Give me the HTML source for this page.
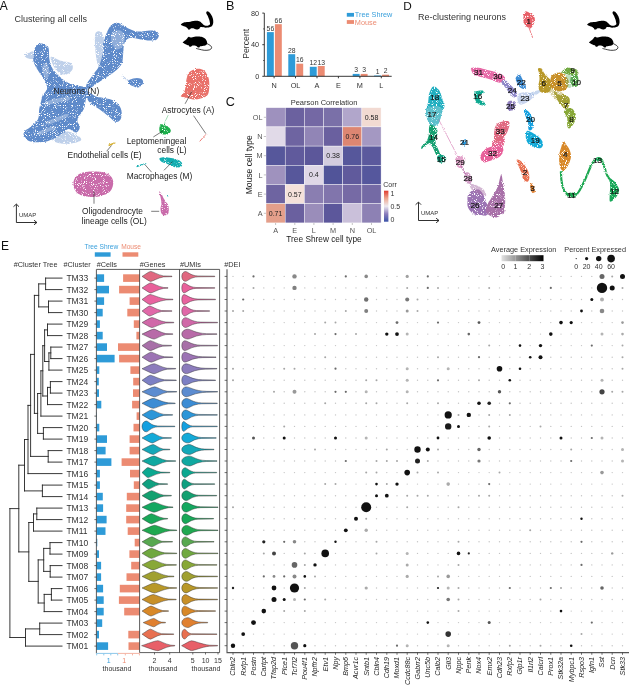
<!DOCTYPE html><html><head><meta charset="utf-8"><title>Figure</title><style>html,body{margin:0;padding:0;background:#fff;}svg{display:block;font-family:"Liberation Sans",Arial,sans-serif;}</style></head><body><svg width="629" height="685" viewBox="0 0 629 685"><defs><filter id="fz" x="-5%" y="-5%" width="110%" height="110%" color-interpolation-filters="sRGB"><feTurbulence type="fractalNoise" baseFrequency="1.1" numOctaves="1" seed="2" result="t"/><feDisplacementMap in="SourceGraphic" in2="t" scale="2.6" xChannelSelector="R" yChannelSelector="G" result="d"/><feColorMatrix in="t" type="matrix" values="0 0 0 0 0 0 0 0 0 0 0 0 0 0 0 0 0 9 0 -2.75" result="m"/><feComposite in="d" in2="m" operator="in"/></filter></defs><rect width="629" height="685" fill="#fff"/><text x="-0.2" y="9.7" font-size="12" fill="#111" font-family="Liberation Sans, Arial, sans-serif">A</text><text x="14.5" y="21.9" font-size="9" fill="#333" font-family="Liberation Sans, Arial, sans-serif">Clustering all cells</text><g filter="url(#fz)"><g fill="#5E8ACA"><path d="M35.44 46.80C36.84 43.92 39.68 43.49 41.80 43.49C43.92 43.49 46.89 44.17 48.16 46.80C49.43 49.43 48.79 55.83 49.43 59.26C50.07 62.70 50.19 64.44 51.97 67.40C53.75 70.37 57.19 74.40 60.11 77.07C63.04 79.74 65.80 81.86 69.53 83.43C73.26 85.00 79.62 85.76 82.50 86.48C85.38 87.20 85.98 86.95 86.83 87.76C87.67 88.56 87.67 89.87 87.59 91.32C87.50 92.76 86.95 93.44 86.32 96.40C85.68 99.37 85.04 105.73 83.77 109.12C82.50 112.52 79.74 114.64 78.68 116.76C77.62 118.88 77.20 120.15 77.41 121.84C77.62 123.54 80.17 125.15 79.96 126.93C79.74 128.71 78.05 132.19 76.14 132.53C74.23 132.87 71.05 128.63 68.51 128.97C65.97 129.31 64.27 132.57 60.88 134.56C57.49 136.56 52.61 139.65 48.16 140.92C43.71 142.19 37.98 142.62 34.17 142.19C30.35 141.77 26.96 140.07 25.26 138.38C23.57 136.68 23.14 133.93 23.99 132.02C24.84 130.11 28.02 129.05 30.35 126.93C32.68 124.81 36.50 122.27 37.98 119.30C39.47 116.33 38.66 112.43 39.25 109.12C39.85 105.82 41.04 101.62 41.54 99.46C42.05 97.29 41.37 98.02 42.31 96.15C43.24 94.28 46.76 90.93 47.14 88.26C47.52 85.59 45.95 82.84 44.60 80.12C43.24 77.41 40.87 75.21 39.00 71.98C37.13 68.76 34.00 64.99 33.40 60.79C32.81 56.59 34.04 49.68 35.44 46.80Z"/><path d="M86.32 84.96C87.16 82.41 91.83 76.69 93.95 73.51C96.07 70.33 97.55 69.27 99.04 65.88C100.52 62.49 102.00 57.40 102.85 53.16C103.70 48.92 103.06 44.68 104.12 40.44C105.18 36.20 107.30 30.69 109.21 27.72C111.12 24.75 113.24 23.06 115.57 22.63C117.90 22.21 120.87 24.12 123.20 25.18C125.53 26.24 127.23 27.93 129.56 28.99C131.89 30.05 134.23 31.24 137.19 31.54C140.16 31.83 144.40 30.90 147.37 30.77C150.34 30.64 153.09 30.22 155.00 30.77C156.91 31.32 158.48 32.68 158.82 34.08C159.16 35.48 158.52 38.11 157.04 39.17C155.55 40.23 152.80 40.44 149.91 40.44C147.03 40.44 143.13 39.59 139.74 39.17C136.35 38.74 132.11 37.26 129.56 37.89C127.02 38.53 125.53 40.44 124.47 42.98C123.41 45.53 123.63 49.77 123.20 53.16C122.78 56.55 122.99 60.58 121.93 63.33C120.87 66.09 119.39 67.36 116.84 69.69C114.30 72.03 110.06 74.99 106.67 77.33C103.28 79.66 99.46 81.78 96.49 83.68C93.52 85.59 90.56 88.56 88.86 88.77C87.16 88.98 85.47 87.50 86.32 84.96Z"/><path d="M86.32 91.32C87.59 90.47 92.68 95.13 96.49 96.40C100.31 97.68 105.82 97.89 109.21 98.95C112.60 100.01 114.81 100.86 116.84 102.76C118.88 104.67 120.79 107.64 121.42 110.40C122.06 113.15 121.63 117.39 120.66 119.30C119.68 121.21 117.48 122.27 115.57 121.84C113.66 121.42 111.97 118.88 109.21 116.76C106.46 114.64 102.43 111.67 99.04 109.12C95.64 106.58 90.98 104.46 88.86 101.49C86.74 98.52 85.04 92.16 86.32 91.32Z"/><path d="M129.56 79.87C131.05 79.02 135.07 78.09 137.19 78.09C139.31 78.09 141.35 78.94 142.28 79.87C143.21 80.80 143.43 82.41 142.79 83.68C142.15 84.96 140.03 87.08 138.47 87.50C136.90 87.92 135.07 86.95 133.38 86.23C131.68 85.51 128.93 84.24 128.29 83.18C127.65 82.12 128.08 80.72 129.56 79.87Z"/></g><g fill="#5E8ACA" opacity="0.4"><path d="M50.70 56.97C51.55 55.49 57.49 59.73 60.88 60.79C64.27 61.85 69.15 61.85 71.05 63.33C72.96 64.82 73.39 67.79 72.33 69.69C71.27 71.60 67.45 74.78 64.69 74.78C61.94 74.78 58.12 72.66 55.79 69.69C53.46 66.73 49.85 58.46 50.70 56.97Z"/><path d="M95.22 34.08C96.15 30.26 100.01 30.90 101.58 32.81C103.15 34.72 104.42 40.86 104.63 45.53C104.84 50.19 103.78 57.19 102.85 60.79C101.92 64.39 100.18 68.00 99.04 67.15C97.89 66.30 96.62 61.21 95.98 55.70C95.35 50.19 94.29 37.89 95.22 34.08Z"/><path d="M24.75 55.70C24.97 54.56 28.57 52.52 30.35 51.89C32.13 51.25 34.59 50.83 35.44 51.89C36.29 52.95 36.50 57.10 35.44 58.25C34.38 59.39 30.86 59.18 29.08 58.75C27.30 58.33 24.54 56.85 24.75 55.70Z"/><path d="M48.16 134.56C49.01 132.65 56.64 130.96 60.88 130.75C65.12 130.53 70.21 131.81 73.60 133.29C76.99 134.77 81.65 137.95 81.23 139.65C80.80 141.35 75.29 143.04 71.05 143.47C66.81 143.89 59.61 143.68 55.79 142.19C51.97 140.71 47.31 136.47 48.16 134.56Z"/><path d="M121.9 76L129.6 81.6" stroke="#5E8ACA" stroke-width="1.2" fill="none"/></g><g fill="#fff" opacity="0.3"><path d="M111.76 32.81C113.03 30.69 117.27 29.84 119.39 30.26C121.51 30.69 123.84 32.81 124.47 35.35C125.11 37.89 124.47 43.19 123.20 45.53C121.93 47.86 118.75 49.77 116.84 49.34C114.94 48.92 112.60 45.74 111.76 42.98C110.91 40.23 110.48 34.93 111.76 32.81Z"/><path d="M42.56 65.88C43.20 64.18 45.74 62.06 46.89 63.33C48.03 64.61 49.56 70.97 49.43 73.51C49.30 76.05 47.18 78.60 46.12 78.60C45.06 78.60 43.66 75.63 43.07 73.51C42.48 71.39 41.93 67.57 42.56 65.88Z"/></g><path d="M46 103.5C53 101.5 60 99.8 68 98.6M47.5 123C54 120.5 60 118 66.4 115.5M40 133C45 131 50 129 54 127.5" stroke="#fff" stroke-width="4" stroke-linecap="round" fill="none" opacity="0.32"/><g></g><path d="M189.20 72.30C190.95 70.55 194.53 69.10 197.00 68.80C199.47 68.50 202.10 69.05 204.00 70.50C205.90 71.95 207.52 74.87 208.40 77.50C209.28 80.13 209.43 83.38 209.30 86.30C209.17 89.22 209.05 92.97 207.60 95.00C206.15 97.03 202.93 97.77 200.60 98.50C198.27 99.23 195.95 99.53 193.60 99.40C191.25 99.27 188.67 98.13 186.50 97.70C184.33 97.27 181.03 97.68 180.60 96.80C180.17 95.92 183.05 94.15 183.90 92.40C184.75 90.65 185.27 88.48 185.70 86.30C186.13 84.12 185.92 81.63 186.50 79.30C187.08 76.97 187.45 74.05 189.20 72.30Z" fill="#E9716A"/><path d="M199.7 141.4L205.8 134.4" stroke="#E9716A" stroke-width="0.9"/><path d="M159.40 127.50C159.65 126.13 160.73 124.80 161.50 124.30C162.27 123.80 163.17 124.22 164.00 124.50C164.83 124.78 165.58 125.42 166.50 126.00C167.42 126.58 168.78 127.17 169.50 128.00C170.22 128.83 170.97 130.00 170.80 131.00C170.63 132.00 169.72 133.43 168.50 134.00C167.28 134.57 164.92 134.65 163.50 134.40C162.08 134.15 160.68 133.65 160.00 132.50C159.32 131.35 159.15 128.87 159.40 127.50Z" fill="#1DAF4B"/><path d="M164 125.5C165 121 167 118 168.2 115.2" stroke="#1DAF4B" stroke-width="0.7" fill="none" opacity="0.6"/><path d="M159.40 158.50C159.65 157.73 161.57 157.37 163.00 157.20C164.43 157.03 166.17 157.28 168.00 157.50C169.83 157.72 172.08 158.00 174.00 158.50C175.92 159.00 178.13 159.67 179.50 160.50C180.87 161.33 181.95 162.45 182.20 163.50C182.45 164.55 182.03 166.13 181.00 166.80C179.97 167.47 177.67 167.72 176.00 167.50C174.33 167.28 172.67 166.17 171.00 165.50C169.33 164.83 167.58 164.12 166.00 163.50C164.42 162.88 162.60 162.63 161.50 161.80C160.40 160.97 159.15 159.27 159.40 158.50Z" fill="#14ADB0"/><path d="M136.6 166.8L142 164.6L146.3 163.5" stroke="#14ADB0" stroke-width="1.2" fill="none"/><path d="M108.6 145.5L115.3 142.6" stroke="#D4AE2C" stroke-width="1.4" fill="none"/><path d="M73.40 183.00C73.48 180.58 74.57 178.20 76.00 176.50C77.43 174.80 79.67 173.63 82.00 172.80C84.33 171.97 87.00 171.67 90.00 171.50C93.00 171.33 97.00 171.38 100.00 171.80C103.00 172.22 105.92 172.80 108.00 174.00C110.08 175.20 111.67 177.17 112.50 179.00C113.33 180.83 113.42 182.92 113.00 185.00C112.58 187.08 111.83 189.70 110.00 191.50C108.17 193.30 105.00 194.88 102.00 195.80C99.00 196.72 95.33 197.05 92.00 197.00C88.67 196.95 84.75 196.50 82.00 195.50C79.25 194.50 76.93 193.08 75.50 191.00C74.07 188.92 73.32 185.42 73.40 183.00Z" fill="#C96BAA"/><path d="M159.20 191.30C159.37 190.80 160.70 192.72 161.50 194.00C162.30 195.28 163.00 197.33 164.00 199.00C165.00 200.67 166.70 202.33 167.50 204.00C168.30 205.67 168.72 207.33 168.80 209.00C168.88 210.67 168.72 212.95 168.00 214.00C167.28 215.05 165.58 215.38 164.50 215.30C163.42 215.22 162.17 214.63 161.50 213.50C160.83 212.37 160.50 210.17 160.50 208.50C160.50 206.83 161.50 205.42 161.50 203.50C161.50 201.58 160.88 199.03 160.50 197.00C160.12 194.97 159.03 191.80 159.20 191.30Z" fill="#C96BAA"/><circle cx="167.8" cy="195.7" r="0.8" fill="#14ADB0"/></g><path d="M191.8 91.5L185.1 103.8M193.6 115.7L205.8 133.6M162.9 130.9L153.3 137M106.7 151.2L111.5 145.5M144.9 164.6L151.6 172.2M172.5 161.6L164 170.3M94 191.3V203.7M151.2 211.3H159.2" stroke="#222" stroke-width="0.6"/><g font-size="8.4" fill="#222" font-family="Liberation Sans, Arial, sans-serif"><text x="53.6" y="93.7">Neurons (N)</text><text x="161.7" y="112.5">Astrocytes (A)</text><text x="126.7" y="143.7">Leptomeningeal</text><text x="157.3" y="153.2">cells (L)</text><text x="67.6" y="158.3">Endothelial cells (E)</text><text x="126.7" y="179">Macrophages (M)</text><text x="82" y="213.8">Oligodendrocyte</text><text x="81.6" y="223.7">lineage cells (OL)</text></g><path d="M16.4 204.3V222.5H36.8M13.5 206.7L16.4 204.1L19.0 206.7M34.0 220.2L36.9 222.5L34.0 224.8" fill="none" stroke="#1a1a1a" stroke-width="0.9" stroke-linejoin="miter"/><text x="18.9" y="216.5" font-size="6" fill="#333" font-family="Liberation Sans, Arial, sans-serif">UMAP</text><path d="M180.84 24.58C180.89 24.26 181.82 23.56 182.30 23.26C182.79 22.96 183.81 22.49 184.50 22.31C185.18 22.14 186.64 22.03 187.42 21.95C188.20 21.86 189.56 21.79 190.34 21.65C191.12 21.52 192.38 21.05 193.26 20.92C194.14 20.80 196.04 20.64 196.91 20.70C197.79 20.77 199.15 21.09 199.84 21.44C200.52 21.78 201.49 22.77 202.03 23.26C202.56 23.75 203.37 24.75 203.85 25.09C204.34 25.43 205.09 25.77 205.68 25.82C206.26 25.87 207.65 25.65 208.24 25.45C208.82 25.26 209.86 24.80 210.06 24.36C210.27 23.92 209.89 22.80 209.77 22.17C209.65 21.53 209.41 20.34 209.19 19.61C208.96 18.88 208.41 17.39 208.09 16.69C207.77 15.99 207.02 14.91 206.78 14.35C206.53 13.79 206.21 12.86 206.26 12.45C206.31 12.04 206.81 11.36 207.14 11.28C207.47 11.20 208.32 11.58 208.75 11.87C209.18 12.15 209.93 12.84 210.35 13.40C210.78 13.97 211.60 15.29 211.96 16.10C212.32 16.91 212.89 18.56 213.06 19.46C213.22 20.37 213.35 22.03 213.20 22.90C213.06 23.76 212.48 25.38 211.96 25.96C211.45 26.55 210.17 27.06 209.33 27.28C208.49 27.50 206.65 27.69 205.68 27.64C204.71 27.60 202.76 26.96 202.03 26.91C201.30 26.87 200.57 27.04 200.20 27.28C199.83 27.52 199.69 28.45 199.25 28.74C198.81 29.03 197.52 29.42 196.91 29.47C196.31 29.52 195.21 29.25 194.72 29.11C194.24 28.96 193.73 28.47 193.26 28.37C192.79 28.28 191.68 28.23 191.22 28.37C190.75 28.52 190.16 29.32 189.76 29.47C189.35 29.62 188.44 29.64 188.15 29.47C187.86 29.30 187.86 28.57 187.56 28.23C187.27 27.89 186.46 27.19 185.96 26.91C185.45 26.64 184.30 26.36 183.77 26.18C183.23 26.01 182.33 25.81 181.94 25.60C181.55 25.38 180.79 24.89 180.84 24.58Z" fill="#000"/><path d="M182.67 42.62C182.67 42.23 183.96 41.28 184.50 40.79C185.03 40.31 186.25 39.40 186.69 38.97C187.13 38.53 187.49 37.82 187.78 37.51C188.08 37.19 188.58 36.65 188.88 36.63C189.18 36.61 189.56 37.29 190.05 37.36C190.53 37.43 191.62 37.27 192.53 37.14C193.45 37.01 195.75 36.46 196.91 36.41C198.08 36.36 200.23 36.48 201.30 36.78C202.37 37.07 204.22 38.02 204.95 38.60C205.68 39.19 206.48 40.48 206.78 41.16C207.07 41.84 207.29 43.18 207.14 43.71C206.99 44.25 206.26 44.88 205.68 45.18C205.09 45.47 203.49 45.76 202.76 45.91C202.03 46.05 200.67 46.06 200.20 46.27C199.73 46.49 199.59 47.40 199.25 47.51C198.91 47.63 198.05 47.36 197.64 47.15C197.24 46.93 196.87 46.12 196.18 45.91C195.50 45.69 193.19 45.47 192.53 45.54C191.87 45.61 191.61 46.25 191.22 46.42C190.83 46.58 189.94 46.89 189.61 46.78C189.28 46.68 189.12 45.88 188.73 45.61C188.34 45.35 187.25 45.06 186.69 44.81C186.12 44.56 185.03 44.01 184.50 43.71C183.96 43.42 182.67 43.01 182.67 42.62Z" fill="#000"/><path d="M206.99 43.57C207.63 43.96 210.04 45.15 210.79 45.91C211.55 46.66 211.77 47.43 211.52 48.10C211.28 48.77 210.55 49.56 209.33 49.92C208.11 50.29 205.92 50.41 204.22 50.29C202.51 50.17 200.44 49.50 199.11 49.19C197.77 48.89 196.67 48.58 196.18 48.46" fill="none" stroke="#000" stroke-width="0.75" stroke-linejoin="round"/><text x="226" y="10" font-size="12.6" fill="#111" font-family="Liberation Sans, Arial, sans-serif">B</text><rect x="266.9" y="32.1" width="6.9" height="44.2" fill="#2E9BD8"/><rect x="274.9" y="24.2" width="6.9" height="52.1" fill="#EC8B72"/><text x="270.4" y="30.6" font-size="6.8" text-anchor="middle" fill="#333" font-family="Liberation Sans, Arial, sans-serif">56</text><text x="278.4" y="22.7" font-size="6.8" text-anchor="middle" fill="#333" font-family="Liberation Sans, Arial, sans-serif">66</text><text x="274.1" y="87.8" font-size="7.3" text-anchor="middle" fill="#333" font-family="Liberation Sans, Arial, sans-serif">N</text><rect x="288.3" y="54.2" width="6.9" height="22.1" fill="#2E9BD8"/><rect x="296.3" y="63.7" width="6.9" height="12.6" fill="#EC8B72"/><text x="291.8" y="52.7" font-size="6.8" text-anchor="middle" fill="#333" font-family="Liberation Sans, Arial, sans-serif">28</text><text x="299.8" y="62.2" font-size="6.8" text-anchor="middle" fill="#333" font-family="Liberation Sans, Arial, sans-serif">16</text><text x="295.5" y="87.8" font-size="7.3" text-anchor="middle" fill="#333" font-family="Liberation Sans, Arial, sans-serif">OL</text><rect x="309.8" y="66.8" width="6.9" height="9.5" fill="#2E9BD8"/><rect x="317.8" y="66.0" width="6.9" height="10.3" fill="#EC8B72"/><text x="313.2" y="65.3" font-size="6.8" text-anchor="middle" fill="#333" font-family="Liberation Sans, Arial, sans-serif">12</text><text x="321.2" y="64.5" font-size="6.8" text-anchor="middle" fill="#333" font-family="Liberation Sans, Arial, sans-serif">13</text><text x="317.0" y="87.8" font-size="7.3" text-anchor="middle" fill="#333" font-family="Liberation Sans, Arial, sans-serif">A</text><text x="338.4" y="87.8" font-size="7.3" text-anchor="middle" fill="#333" font-family="Liberation Sans, Arial, sans-serif">E</text><rect x="352.7" y="73.9" width="6.9" height="2.4" fill="#2E9BD8"/><rect x="360.7" y="73.9" width="6.9" height="2.4" fill="#EC8B72"/><text x="356.1" y="72.4" font-size="6.8" text-anchor="middle" fill="#333" font-family="Liberation Sans, Arial, sans-serif">3</text><text x="364.1" y="72.4" font-size="6.8" text-anchor="middle" fill="#333" font-family="Liberation Sans, Arial, sans-serif">3</text><text x="359.9" y="87.8" font-size="7.3" text-anchor="middle" fill="#333" font-family="Liberation Sans, Arial, sans-serif">M</text><rect x="374.1" y="75.5" width="6.9" height="0.8" fill="#2E9BD8"/><rect x="382.1" y="74.7" width="6.9" height="1.6" fill="#EC8B72"/><text x="377.6" y="74.0" font-size="6.8" text-anchor="middle" fill="#333" font-family="Liberation Sans, Arial, sans-serif">1</text><text x="385.6" y="73.2" font-size="6.8" text-anchor="middle" fill="#333" font-family="Liberation Sans, Arial, sans-serif">2</text><text x="381.3" y="87.8" font-size="7.3" text-anchor="middle" fill="#333" font-family="Liberation Sans, Arial, sans-serif">L</text><path d="M264.3 13.1V76.3H391.7M262.3 13.1h2M262.3 44.7h2M262.3 76.3h2M263.3 28.9h1M263.3 60.5h1M274.1 76.3v2M295.5 76.3v2M317.0 76.3v2M338.4 76.3v2M359.9 76.3v2M381.3 76.3v2" fill="none" stroke="#222" stroke-width="0.9"/><g font-size="7.3" fill="#333" text-anchor="end" font-family="Liberation Sans, Arial, sans-serif"><text x="259.2" y="16">80</text><text x="259.2" y="47.3">40</text><text x="259.2" y="78.8">0</text></g><text transform="translate(249.2 43.8) rotate(-90)" font-size="8.7" text-anchor="middle" fill="#333" font-family="Liberation Sans, Arial, sans-serif">Percent</text><rect x="346.8" y="12.9" width="7.2" height="3.8" fill="#2E9BD8"/><rect x="346.8" y="20.1" width="7.2" height="3.8" fill="#EC8B72"/><text x="354.8" y="17.3" font-size="7.3" fill="#3AA0DC" font-family="Liberation Sans, Arial, sans-serif">Tree Shrew</text><text x="354.8" y="24.5" font-size="7.3" fill="#EC8B72" font-family="Liberation Sans, Arial, sans-serif">Mouse</text><text x="225.8" y="105.6" font-size="12.6" fill="#111" font-family="Liberation Sans, Arial, sans-serif">C</text><text x="324" y="104.9" font-size="7.5" text-anchor="middle" fill="#333" font-family="Liberation Sans, Arial, sans-serif">Pearson Correlation</text><rect x="266.00" y="107.70" width="19.18" height="19.20" fill="#9e91be" stroke="#fff" stroke-width="0.4"/><rect x="285.18" y="107.70" width="19.18" height="19.20" fill="#6b619f" stroke="#fff" stroke-width="0.4"/><rect x="304.36" y="107.70" width="19.18" height="19.20" fill="#7468a4" stroke="#fff" stroke-width="0.4"/><rect x="323.54" y="107.70" width="19.18" height="19.20" fill="#7a70a8" stroke="#fff" stroke-width="0.4"/><rect x="342.72" y="107.70" width="19.18" height="19.20" fill="#b1a6cb" stroke="#fff" stroke-width="0.4"/><rect x="361.90" y="107.70" width="19.18" height="19.20" fill="#f2dad2" stroke="#fff" stroke-width="0.4"/><rect x="266.00" y="126.90" width="19.18" height="19.20" fill="#e1dae8" stroke="#fff" stroke-width="0.4"/><rect x="285.18" y="126.90" width="19.18" height="19.20" fill="#6e64a1" stroke="#fff" stroke-width="0.4"/><rect x="304.36" y="126.90" width="19.18" height="19.20" fill="#9185b6" stroke="#fff" stroke-width="0.4"/><rect x="323.54" y="126.90" width="19.18" height="19.20" fill="#6a609f" stroke="#fff" stroke-width="0.4"/><rect x="342.72" y="126.90" width="19.18" height="19.20" fill="#dd8672" stroke="#fff" stroke-width="0.4"/><rect x="361.90" y="126.90" width="19.18" height="19.20" fill="#a498c2" stroke="#fff" stroke-width="0.4"/><rect x="266.00" y="146.10" width="19.18" height="19.20" fill="#56579b" stroke="#fff" stroke-width="0.4"/><rect x="285.18" y="146.10" width="19.18" height="19.20" fill="#605a9c" stroke="#fff" stroke-width="0.4"/><rect x="304.36" y="146.10" width="19.18" height="19.20" fill="#5c579a" stroke="#fff" stroke-width="0.4"/><rect x="323.54" y="146.10" width="19.18" height="19.20" fill="#d3ccdf" stroke="#fff" stroke-width="0.4"/><rect x="342.72" y="146.10" width="19.18" height="19.20" fill="#56579b" stroke="#fff" stroke-width="0.4"/><rect x="361.90" y="146.10" width="19.18" height="19.20" fill="#5b599d" stroke="#fff" stroke-width="0.4"/><rect x="266.00" y="165.30" width="19.18" height="19.20" fill="#9f92be" stroke="#fff" stroke-width="0.4"/><rect x="285.18" y="165.30" width="19.18" height="19.20" fill="#57579b" stroke="#fff" stroke-width="0.4"/><rect x="304.36" y="165.30" width="19.18" height="19.20" fill="#dfd7e6" stroke="#fff" stroke-width="0.4"/><rect x="323.54" y="165.30" width="19.18" height="19.20" fill="#515499" stroke="#fff" stroke-width="0.4"/><rect x="342.72" y="165.30" width="19.18" height="19.20" fill="#605a9c" stroke="#fff" stroke-width="0.4"/><rect x="361.90" y="165.30" width="19.18" height="19.20" fill="#55579d" stroke="#fff" stroke-width="0.4"/><rect x="266.00" y="184.50" width="19.18" height="19.20" fill="#6e64a1" stroke="#fff" stroke-width="0.4"/><rect x="285.18" y="184.50" width="19.18" height="19.20" fill="#f4e1da" stroke="#fff" stroke-width="0.4"/><rect x="304.36" y="184.50" width="19.18" height="19.20" fill="#8a7eb1" stroke="#fff" stroke-width="0.4"/><rect x="323.54" y="184.50" width="19.18" height="19.20" fill="#8175ac" stroke="#fff" stroke-width="0.4"/><rect x="342.72" y="184.50" width="19.18" height="19.20" fill="#766aa5" stroke="#fff" stroke-width="0.4"/><rect x="361.90" y="184.50" width="19.18" height="19.20" fill="#746aa5" stroke="#fff" stroke-width="0.4"/><rect x="266.00" y="203.70" width="19.18" height="19.20" fill="#e49f8b" stroke="#fff" stroke-width="0.4"/><rect x="285.18" y="203.70" width="19.18" height="19.20" fill="#6a609f" stroke="#fff" stroke-width="0.4"/><rect x="304.36" y="203.70" width="19.18" height="19.20" fill="#9a8dba" stroke="#fff" stroke-width="0.4"/><rect x="323.54" y="203.70" width="19.18" height="19.20" fill="#5c579b" stroke="#fff" stroke-width="0.4"/><rect x="342.72" y="203.70" width="19.18" height="19.20" fill="#cac0da" stroke="#fff" stroke-width="0.4"/><rect x="361.90" y="203.70" width="19.18" height="19.20" fill="#8d81b4" stroke="#fff" stroke-width="0.4"/><text x="371.5" y="119.8" font-size="7" text-anchor="middle" fill="#222" font-family="Liberation Sans, Arial, sans-serif">0.58</text><text x="352.3" y="139.0" font-size="7" text-anchor="middle" fill="#222" font-family="Liberation Sans, Arial, sans-serif">0.76</text><text x="333.1" y="158.2" font-size="7" text-anchor="middle" fill="#222" font-family="Liberation Sans, Arial, sans-serif">0.38</text><text x="313.9" y="177.4" font-size="7" text-anchor="middle" fill="#222" font-family="Liberation Sans, Arial, sans-serif">0.4</text><text x="294.8" y="196.6" font-size="7" text-anchor="middle" fill="#222" font-family="Liberation Sans, Arial, sans-serif">0.57</text><text x="275.6" y="215.8" font-size="7" text-anchor="middle" fill="#222" font-family="Liberation Sans, Arial, sans-serif">0.71</text><g font-size="7.3" fill="#555" font-family="Liberation Sans, Arial, sans-serif"><text x="262.5" y="119.9" text-anchor="end">OL</text><text x="262.5" y="139.1" text-anchor="end">N</text><text x="262.5" y="158.3" text-anchor="end">M</text><text x="262.5" y="177.5" text-anchor="end">L</text><text x="262.5" y="196.7" text-anchor="end">E</text><text x="262.5" y="215.9" text-anchor="end">A</text><text x="275.6" y="232.8" text-anchor="middle">A</text><text x="294.8" y="232.8" text-anchor="middle">E</text><text x="313.9" y="232.8" text-anchor="middle">L</text><text x="333.1" y="232.8" text-anchor="middle">M</text><text x="352.3" y="232.8" text-anchor="middle">N</text><text x="371.5" y="232.8" text-anchor="middle">OL</text></g><path d="M263.8 117.3H266M263.8 136.5H266M263.8 155.7H266M263.8 174.9H266M263.8 194.1H266M263.8 213.3H266M275.6 223V225M294.8 223V225M313.9 223V225M333.1 223V225M352.3 223V225M371.5 223V225" stroke="#888" stroke-width="0.5"/><text transform="translate(251.7 164.7) rotate(-90)" font-size="8.5" text-anchor="middle" fill="#222" font-family="Liberation Sans, Arial, sans-serif">Mouse cell type</text><text x="324" y="241.5" font-size="8.3" text-anchor="middle" fill="#222" font-family="Liberation Sans, Arial, sans-serif">Tree Shrew cell type</text><defs><linearGradient id="cg" x1="0" y1="1" x2="0" y2="0"><stop offset="0" stop-color="#3a52a8"/><stop offset="0.25" stop-color="#8a7cbc"/><stop offset="0.5" stop-color="#eeeaf0"/><stop offset="0.75" stop-color="#eea890"/><stop offset="1" stop-color="#e03c30"/></linearGradient></defs><rect x="384" y="190.7" width="4.4" height="31" fill="url(#cg)"/><g font-size="7" fill="#333" font-family="Liberation Sans, Arial, sans-serif"><text x="383.3" y="187">Corr</text><text x="390.4" y="195.5">1</text><text x="390.4" y="208.8">0.5</text><text x="390.4" y="222">0</text></g><text x="403.3" y="9.6" font-size="11.8" fill="#111" font-family="Liberation Sans, Arial, sans-serif">D</text><text x="418" y="19.5" font-size="9" fill="#333" font-family="Liberation Sans, Arial, sans-serif">Re-clustering neurons</text><g filter="url(#fz)"><path d="M525.30 11.40C526.25 10.65 527.83 11.97 529.10 12.60C530.37 13.23 531.95 14.23 532.90 15.20C533.85 16.17 534.58 17.13 534.80 18.40C535.02 19.67 534.62 21.43 534.20 22.80C533.78 24.17 532.95 25.65 532.30 26.60C531.65 27.55 530.83 28.28 530.30 28.50C529.77 28.72 529.83 28.32 529.10 27.90C528.37 27.48 526.80 26.95 525.90 26.00C525.00 25.05 524.12 23.68 523.70 22.20C523.28 20.72 523.13 18.90 523.40 17.10C523.67 15.30 524.35 12.15 525.30 11.40Z" fill="#E86068"/><path d="M471.10 68.30C472.03 67.37 475.70 67.52 478.40 67.80C481.10 68.08 484.33 69.27 487.30 70.00C490.27 70.73 493.62 71.37 496.20 72.20C498.78 73.03 501.33 73.88 502.80 75.00C504.27 76.12 505.18 77.68 505.00 78.90C504.82 80.12 502.98 81.73 501.70 82.30C500.42 82.87 499.15 82.77 497.30 82.30C495.45 81.83 492.83 80.25 490.60 79.50C488.37 78.75 486.32 78.45 483.90 77.80C481.48 77.15 477.95 76.33 476.10 75.60C474.25 74.87 473.63 74.62 472.80 73.40C471.97 72.18 470.17 69.23 471.10 68.30Z" fill="#E668A6"/><path d="M474.50 92.30C475.15 91.27 477.12 91.08 478.50 90.80C479.88 90.52 481.98 90.20 482.80 90.60C483.62 91.00 483.95 92.38 483.40 93.20C482.85 94.02 480.10 94.45 479.50 95.50C478.90 96.55 479.22 98.45 479.80 99.50C480.38 100.55 482.00 101.08 483.00 101.80C484.00 102.52 485.63 103.13 485.80 103.80C485.97 104.47 485.05 105.68 484.00 105.80C482.95 105.92 480.83 105.22 479.50 104.50C478.17 103.78 476.82 102.75 476.00 101.50C475.18 100.25 474.85 98.53 474.60 97.00C474.35 95.47 473.85 93.33 474.50 92.30Z" fill="#0CA890"/><path d="M518.40 75.00C519.22 74.53 519.75 74.77 520.50 75.60C521.25 76.43 522.03 78.33 522.90 80.00C523.77 81.67 525.33 84.12 525.70 85.60C526.07 87.08 525.95 88.53 525.10 88.90C524.25 89.27 521.90 88.72 520.60 87.80C519.30 86.88 518.13 84.97 517.30 83.40C516.47 81.83 515.42 79.80 515.60 78.40C515.78 77.00 517.58 75.47 518.40 75.00Z" fill="#3C8CD4"/><path d="M502.80 80.00C503.55 79.67 504.63 79.58 506.00 80.50C507.37 81.42 509.33 83.75 511.00 85.50C512.67 87.25 515.00 89.25 516.00 91.00C517.00 92.75 517.42 94.92 517.00 96.00C516.58 97.08 514.75 98.00 513.50 97.50C512.25 97.00 511.00 94.83 509.50 93.00C508.00 91.17 505.83 88.25 504.50 86.50C503.17 84.75 501.78 83.58 501.50 82.50C501.22 81.42 502.05 80.33 502.80 80.00Z" fill="#8E88C8"/><path d="M507.50 102.50C508.08 101.05 510.25 100.72 511.50 100.80C512.75 100.88 514.38 101.80 515.00 103.00C515.62 104.20 515.70 106.75 515.20 108.00C514.70 109.25 513.20 110.25 512.00 110.50C510.80 110.75 508.75 110.83 508.00 109.50C507.25 108.17 506.92 103.95 507.50 102.50Z" fill="#8C7CBC"/><path d="M518.40 94.00C519.48 92.72 522.07 92.47 524.00 92.30C525.93 92.13 528.33 92.63 530.00 93.00C531.67 93.37 533.67 93.58 534.00 94.50C534.33 95.42 533.33 97.08 532.00 98.50C530.67 99.92 528.00 102.00 526.00 103.00C524.00 104.00 521.42 105.00 520.00 104.50C518.58 104.00 517.77 101.75 517.50 100.00C517.23 98.25 517.32 95.28 518.40 94.00Z" fill="#C8D4EE"/><path d="M433.40 86.60C435.05 86.17 437.77 88.32 439.30 90.50C440.83 92.68 441.73 97.07 442.60 99.70C443.47 102.33 444.72 103.90 444.50 106.30C444.28 108.70 442.28 111.27 441.30 114.10C440.32 116.93 440.15 121.32 438.60 123.30C437.05 125.28 433.85 126.65 432.00 126.00C430.15 125.35 428.47 122.03 427.50 119.40C426.53 116.77 426.10 113.05 426.20 110.20C426.30 107.35 427.57 105.15 428.10 102.30C428.63 99.45 428.52 95.72 429.40 93.10C430.28 90.48 431.75 87.03 433.40 86.60Z" fill="#20AEC0"/><path d="M427.50 108.00C428.63 107.00 430.67 106.00 433.00 106.00C435.33 106.00 440.12 106.65 441.50 108.00C442.88 109.35 441.78 111.55 441.30 114.10C440.82 116.65 440.15 121.32 438.60 123.30C437.05 125.28 433.85 126.65 432.00 126.00C430.15 125.35 428.47 121.73 427.50 119.40C426.53 117.07 426.20 113.90 426.20 112.00C426.20 110.10 426.37 109.00 427.50 108.00Z" fill="#5CC0CC"/><path d="M430.80 124.60C432.08 124.70 435.62 126.85 436.70 128.60C437.78 130.35 437.50 132.87 437.30 135.10C437.10 137.33 435.30 139.52 435.50 142.00C435.70 144.48 437.75 148.00 438.50 150.00C439.25 152.00 440.33 153.17 440.00 154.00C439.67 154.83 437.67 156.00 436.50 155.00C435.33 154.00 434.18 149.92 433.00 148.00C431.82 146.08 430.73 143.83 429.40 143.50C428.07 143.17 426.30 145.08 425.00 146.00C423.70 146.92 422.13 149.00 421.60 149.00C421.07 149.00 421.03 147.17 421.80 146.00C422.57 144.83 425.03 143.82 426.20 142.00C427.37 140.18 428.33 137.43 428.80 135.10C429.27 132.77 428.67 129.75 429.00 128.00C429.33 126.25 429.52 124.50 430.80 124.60Z" fill="#14A070"/><path d="M437.30 156.50C437.80 155.38 439.63 154.80 441.00 154.80C442.37 154.80 444.68 155.55 445.50 156.50C446.32 157.45 446.48 159.47 445.90 160.50C445.32 161.53 443.32 162.53 442.00 162.70C440.68 162.87 438.78 162.53 438.00 161.50C437.22 160.47 436.80 157.62 437.30 156.50Z" fill="#10A080"/><path d="M462.30 142.00C462.67 140.93 464.30 139.17 465.00 139.00C465.70 138.83 466.42 140.00 466.50 141.00C466.58 142.00 466.12 144.27 465.50 145.00C464.88 145.73 463.33 145.90 462.80 145.40C462.27 144.90 461.93 143.07 462.30 142.00Z" fill="#2C96D8"/><path d="M495.00 138.00C496.50 136.33 499.33 135.67 501.00 136.00C502.67 136.33 504.83 138.33 505.00 140.00C505.17 141.67 503.50 144.50 502.00 146.00C500.50 147.50 497.67 149.00 496.00 149.00C494.33 149.00 492.17 147.83 492.00 146.00C491.83 144.17 493.50 139.67 495.00 138.00Z" fill="#E6668E"/><path d="M496.40 124.60C498.32 122.43 503.42 121.05 505.60 120.80C507.78 120.55 509.23 121.18 509.50 123.10C509.77 125.02 508.62 129.48 507.20 132.30C505.78 135.12 503.05 138.47 501.00 140.00C498.95 141.53 496.05 142.53 494.90 141.50C493.75 140.47 493.85 136.62 494.10 133.80C494.35 130.98 494.48 126.77 496.40 124.60Z" fill="#E06880"/><path d="M484.20 149.90C486.38 148.12 490.60 146.98 493.40 146.10C496.20 145.22 499.35 143.83 501.00 144.60C502.65 145.37 503.55 148.67 503.30 150.70C503.05 152.73 501.67 155.13 499.50 156.80C497.33 158.47 492.98 159.80 490.30 160.70C487.62 161.60 485.07 162.85 483.40 162.20C481.73 161.55 480.17 158.85 480.30 156.80C480.43 154.75 482.02 151.68 484.20 149.90Z" fill="#E8609A"/><path d="M472.50 190.50C474.43 189.67 477.65 188.97 479.60 190.00C481.55 191.03 482.97 194.37 484.20 196.70C485.43 199.03 486.03 201.62 487.00 204.00C487.97 206.38 490.17 209.08 490.00 211.00C489.83 212.92 487.48 214.83 486.00 215.50C484.52 216.17 483.20 215.25 481.10 215.00C479.00 214.75 475.58 215.25 473.40 214.00C471.22 212.75 468.98 209.67 468.00 207.50C467.02 205.33 467.50 203.08 467.50 201.00C467.50 198.92 467.17 196.75 468.00 195.00C468.83 193.25 470.57 191.33 472.50 190.50Z" fill="#9C74B4"/><path d="M498.00 186.00C498.85 183.65 499.42 180.05 500.00 178.00C500.58 175.95 501.08 173.37 501.50 173.70C501.92 174.03 502.00 176.95 502.50 180.00C503.00 183.05 504.05 188.45 504.50 192.00C504.95 195.55 505.20 198.30 505.20 201.30C505.20 204.30 504.82 207.95 504.50 210.00C504.18 212.05 504.65 212.37 503.30 213.60C501.95 214.83 498.82 217.15 496.40 217.40C493.98 217.65 490.53 216.33 488.80 215.10C487.07 213.87 486.13 212.02 486.00 210.00C485.87 207.98 487.28 204.70 488.00 203.00C488.72 201.30 489.15 201.62 490.30 199.80C491.45 197.98 493.62 194.40 494.90 192.10C496.18 189.80 497.15 188.35 498.00 186.00Z" fill="#A870A8"/><path d="M538.00 68.50C538.42 67.75 540.50 67.75 541.50 68.50C542.50 69.25 543.00 71.58 544.00 73.00C545.00 74.42 546.42 75.83 547.50 77.00C548.58 78.17 549.83 78.50 550.50 80.00C551.17 81.50 551.67 84.08 551.50 86.00C551.33 87.92 550.58 90.33 549.50 91.50C548.42 92.67 546.58 93.00 545.00 93.00C543.42 93.00 541.08 92.67 540.00 91.50C538.92 90.33 538.58 88.08 538.50 86.00C538.42 83.92 539.42 81.17 539.50 79.00C539.58 76.83 539.25 74.75 539.00 73.00C538.75 71.25 537.58 69.25 538.00 68.50Z" fill="#B89828"/><path d="M551.00 77.00C551.75 75.08 553.50 74.25 555.00 73.50C556.50 72.75 558.33 72.17 560.00 72.50C561.67 72.83 563.58 74.17 565.00 75.50C566.42 76.83 568.00 78.67 568.50 80.50C569.00 82.33 568.75 84.83 568.00 86.50C567.25 88.17 565.67 89.75 564.00 90.50C562.33 91.25 559.83 91.17 558.00 91.00C556.17 90.83 554.25 90.50 553.00 89.50C551.75 88.50 550.83 87.08 550.50 85.00C550.17 82.92 550.25 78.92 551.00 77.00Z" fill="#C89028"/><path d="M561.80 72.00C561.62 70.92 564.47 68.33 566.10 67.70C567.73 67.07 569.77 67.83 571.60 68.20C573.43 68.57 576.00 68.90 577.10 69.90C578.20 70.90 578.75 73.30 578.20 74.20C577.65 75.10 575.63 75.30 573.80 75.30C571.97 75.30 569.20 74.75 567.20 74.20C565.20 73.65 561.98 73.08 561.80 72.00Z" fill="#70A840"/><path d="M571.60 75.30C572.70 74.02 575.95 74.52 577.10 75.30C578.25 76.08 578.32 78.63 578.50 80.00C578.68 81.37 578.43 82.45 578.20 83.50C577.97 84.55 577.83 85.75 577.10 86.30C576.37 86.85 574.90 87.35 573.80 86.80C572.70 86.25 570.87 84.92 570.50 83.00C570.13 81.08 570.50 76.58 571.60 75.30Z" fill="#58A850"/><path d="M553.50 90.50C553.87 89.87 556.58 93.75 558.50 94.50C560.42 95.25 563.18 94.37 565.00 95.00C566.82 95.63 568.67 96.63 569.40 98.30C570.13 99.97 569.95 103.15 569.40 105.00C568.85 106.85 567.37 109.23 566.10 109.40C564.83 109.57 563.43 107.85 561.80 106.00C560.17 104.15 557.68 100.88 556.30 98.30C554.92 95.72 553.13 91.13 553.50 90.50Z" fill="#A0A030"/><path d="M566.10 109.30C567.38 108.57 570.13 107.65 571.60 108.20C573.07 108.75 574.17 111.15 574.90 112.60C575.63 114.05 576.18 115.08 576.00 116.90C575.82 118.72 574.90 121.58 573.80 123.50C572.70 125.42 570.50 128.03 569.40 128.40C568.30 128.77 567.57 127.43 567.20 125.70C566.83 123.97 567.75 120.18 567.20 118.00C566.65 115.82 564.08 114.05 563.90 112.60C563.72 111.15 564.82 110.03 566.10 109.30Z" fill="#88A838"/><path d="M523.90 109.70C524.60 109.25 527.90 110.65 529.40 112.50C530.90 114.35 532.43 118.03 532.90 120.80C533.37 123.57 532.90 127.60 532.20 129.10C531.50 130.60 529.40 130.95 528.70 129.80C528.00 128.65 528.58 124.63 528.00 122.20C527.42 119.77 525.88 117.28 525.20 115.20C524.52 113.12 523.20 110.15 523.90 109.70Z" fill="#14A0E0"/><path d="M527.00 131.00C528.30 130.33 531.35 132.25 533.60 133.50C535.85 134.75 538.93 136.75 540.50 138.50C542.07 140.25 542.92 142.42 543.00 144.00C543.08 145.58 542.33 147.42 541.00 148.00C539.67 148.58 537.08 148.17 535.00 147.50C532.92 146.83 530.03 145.67 528.50 144.00C526.97 142.33 526.05 139.67 525.80 137.50C525.55 135.33 525.70 131.67 527.00 131.00Z" fill="#14AAD8"/><path d="M516.90 159.60C517.60 159.13 520.65 160.55 522.50 162.40C524.35 164.25 526.85 168.17 528.00 170.70C529.15 173.23 529.48 175.75 529.40 177.60C529.32 179.45 528.53 181.57 527.50 181.80C526.47 182.03 524.27 180.62 523.20 179.00C522.13 177.38 521.92 174.40 521.10 172.10C520.28 169.80 519.00 167.28 518.30 165.20C517.60 163.12 516.20 160.07 516.90 159.60Z" fill="#E87050"/><path d="M530.10 183.20C530.43 182.62 531.72 183.45 532.50 184.50C533.28 185.55 534.50 188.12 534.80 189.50C535.10 190.88 534.77 192.30 534.30 192.80C533.83 193.30 532.63 193.30 532.00 192.50C531.37 191.70 530.82 189.55 530.50 188.00C530.18 186.45 529.77 183.78 530.10 183.20Z" fill="#E08030"/><path d="M563.40 140.90C564.27 140.55 565.47 143.50 566.50 145.00C567.53 146.50 568.85 147.93 569.60 149.90C570.35 151.87 571.23 154.25 571.00 156.80C570.77 159.35 569.47 162.88 568.20 165.20C566.93 167.52 564.78 170.48 563.40 170.70C562.02 170.92 560.60 169.05 559.90 166.50C559.20 163.95 558.97 158.63 559.20 155.40C559.43 152.17 560.60 149.52 561.30 147.10C562.00 144.68 562.53 141.25 563.40 140.90Z" fill="#D88828"/><path d="M609.10 178.20C609.63 177.40 612.32 179.52 613.50 180.50C614.68 181.48 615.27 182.52 616.20 184.10C617.13 185.68 619.10 187.83 619.10 190.00C619.10 192.17 617.67 195.13 616.20 197.10C614.73 199.07 611.38 202.20 610.30 201.80C609.22 201.40 609.70 197.45 609.70 194.70C609.70 191.95 610.40 188.05 610.30 185.30C610.20 182.55 608.57 179.00 609.10 178.20Z" fill="#18A858"/><path d="M547.00 88.00C547.17 86.83 550.83 88.50 553.00 89.00C555.17 89.50 558.00 89.83 560.00 91.00C562.00 92.17 564.50 94.33 565.00 96.00C565.50 97.67 564.33 100.33 563.00 101.00C561.67 101.67 558.83 100.83 557.00 100.00C555.17 99.17 553.67 98.00 552.00 96.00C550.33 94.00 546.83 89.17 547.00 88.00Z" fill="#B0A040" opacity="0.45"/><path d="M528.00 94.00C528.17 93.25 532.00 92.17 534.00 91.50C536.00 90.83 539.17 89.75 540.00 90.00C540.83 90.25 540.17 92.00 539.00 93.00C537.83 94.00 534.83 95.83 533.00 96.00C531.17 96.17 527.83 94.75 528.00 94.00Z" fill="#8FB0E0" opacity="0.5"/><path d="M566.00 76.00C566.83 74.33 569.83 74.00 571.00 75.00C572.17 76.00 573.17 79.83 573.00 82.00C572.83 84.17 571.17 87.50 570.00 88.00C568.83 88.50 566.67 87.00 566.00 85.00C565.33 83.00 565.17 77.67 566.00 76.00Z" fill="#60B060" opacity="0.4"/><path d="M455.70 158.00C456.20 156.35 458.47 156.10 460.00 156.10C461.53 156.10 464.15 156.68 464.90 158.00C465.65 159.32 465.15 162.33 464.50 164.00C463.85 165.67 462.25 167.67 461.00 168.00C459.75 168.33 457.88 167.67 457.00 166.00C456.12 164.33 455.20 159.65 455.70 158.00Z" fill="#D068A8" opacity="0.6"/><path d="M464.50 173.50C465.08 172.42 467.33 171.92 468.50 172.50C469.67 173.08 471.08 175.25 471.50 177.00C471.92 178.75 471.67 181.92 471.00 183.00C470.33 184.08 468.50 184.17 467.50 183.50C466.50 182.83 465.50 180.67 465.00 179.00C464.50 177.33 463.92 174.58 464.50 173.50Z" fill="#B86AA8" opacity="0.65"/><path d="M470.00 184.00C471.00 183.33 475.67 185.00 478.00 186.00C480.33 187.00 482.67 188.33 484.00 190.00C485.33 191.67 486.83 195.33 486.00 196.00C485.17 196.67 481.33 195.00 479.00 194.00C476.67 193.00 473.50 191.67 472.00 190.00C470.50 188.33 469.00 184.67 470.00 184.00Z" fill="#A870A8" opacity="0.5"/><path d="M438.6 119.4L458.3 157.5" stroke="#D068A8" stroke-width="0.8" opacity="0.7"/><path d="M461 166L465.5 174" stroke="#B86AA8" stroke-width="1.5" opacity="0.8"/><path d="M529.1 27.9L532.6 37.8" stroke="#E86068" stroke-width="1" opacity="0.8"/><path d="M560.9 171.2C561 180 562 189 566 193C569 197 574 197.5 578 193C582 187 586 178 590 168C592 163 594.5 159 598.5 158.2C602 158 603.5 163 605.6 171.2C607 176 608 177 609.5 179" fill="none" stroke="#1EA852" stroke-width="2.2"/><ellipse cx="571.5" cy="195" rx="4.5" ry="2.6" fill="#1EA852"/><ellipse cx="597.5" cy="159.6" rx="2.6" ry="1.8" fill="#16A85A"/></g><g font-size="8.1" fill="#111" stroke="#111" stroke-width="0.2" text-anchor="middle" font-family="Liberation Sans, Arial, sans-serif"><text x="528.8" y="24.1">1</text><text x="478.4" y="75.4">31</text><text x="497.8" y="78.5">30</text><text x="521.2" y="84.9">22</text><text x="512.3" y="93.2">24</text><text x="525.1" y="100.7">23</text><text x="510.6" y="109.1">25</text><text x="477.8" y="98.7">16</text><text x="434.7" y="99.7">18</text><text x="432.1" y="116.8">17</text><text x="433.4" y="139.6">14</text><text x="441.3" y="161.7">15</text><text x="464.6" y="144.9">21</text><text x="460.3" y="164.9">29</text><text x="500.3" y="133.9">33</text><text x="492.6" y="155.9">32</text><text x="468.0" y="181.2">28</text><text x="475.0" y="208.1">26</text><text x="498.7" y="208.1">27</text><text x="543.7" y="85.9">6</text><text x="559.6" y="85.9">5</text><text x="572.7" y="73.3">9</text><text x="576.5" y="85.3">10</text><text x="566.1" y="108.3">7</text><text x="571.6" y="122.0">8</text><text x="530.5" y="122.3">20</text><text x="535.2" y="143.1">19</text><text x="525.0" y="174.7">2</text><text x="532.5" y="191.2">3</text><text x="565.2" y="157.0">4</text><text x="597.4" y="162.9">13</text><text x="571.5" y="197.6">11</text><text x="614.4" y="194.1">12</text></g><path d="M418.5 202.3V220.5H438.9M415.6 204.7L418.5 202.1L421.1 204.7M436.1 218.2L439.0 220.5L436.1 222.8" fill="none" stroke="#1a1a1a" stroke-width="0.9" stroke-linejoin="miter"/><text x="421.0" y="214.5" font-size="6" fill="#333" font-family="Liberation Sans, Arial, sans-serif">UMAP</text><path d="M587.14 24.58C587.19 24.26 588.12 23.56 588.60 23.26C589.09 22.96 590.11 22.49 590.80 22.31C591.48 22.14 592.94 22.03 593.72 21.95C594.50 21.86 595.86 21.79 596.64 21.65C597.42 21.52 598.68 21.05 599.56 20.92C600.44 20.80 602.34 20.64 603.21 20.70C604.09 20.77 605.45 21.09 606.14 21.44C606.82 21.78 607.79 22.77 608.33 23.26C608.86 23.75 609.67 24.75 610.15 25.09C610.64 25.43 611.39 25.77 611.98 25.82C612.56 25.87 613.95 25.65 614.54 25.45C615.12 25.26 616.16 24.80 616.36 24.36C616.57 23.92 616.19 22.80 616.07 22.17C615.95 21.53 615.71 20.34 615.49 19.61C615.26 18.88 614.71 17.39 614.39 16.69C614.07 15.99 613.32 14.91 613.08 14.35C612.83 13.79 612.51 12.86 612.56 12.45C612.61 12.04 613.11 11.36 613.44 11.28C613.77 11.20 614.62 11.58 615.05 11.87C615.48 12.15 616.23 12.84 616.65 13.40C617.08 13.97 617.90 15.29 618.26 16.10C618.62 16.91 619.19 18.56 619.36 19.46C619.52 20.37 619.65 22.03 619.50 22.90C619.36 23.76 618.78 25.38 618.26 25.96C617.75 26.55 616.47 27.06 615.63 27.28C614.79 27.50 612.95 27.69 611.98 27.64C611.01 27.60 609.06 26.96 608.33 26.91C607.60 26.87 606.87 27.04 606.50 27.28C606.13 27.52 605.99 28.45 605.55 28.74C605.11 29.03 603.82 29.42 603.21 29.47C602.61 29.52 601.51 29.25 601.02 29.11C600.54 28.96 600.03 28.47 599.56 28.37C599.09 28.28 597.98 28.23 597.52 28.37C597.05 28.52 596.46 29.32 596.06 29.47C595.65 29.62 594.74 29.64 594.45 29.47C594.16 29.30 594.16 28.57 593.86 28.23C593.57 27.89 592.76 27.19 592.26 26.91C591.75 26.64 590.60 26.36 590.07 26.18C589.53 26.01 588.63 25.81 588.24 25.60C587.85 25.38 587.09 24.89 587.14 24.58Z" fill="#000"/><path d="M588.97 42.62C588.97 42.23 590.26 41.28 590.80 40.79C591.33 40.31 592.55 39.40 592.99 38.97C593.43 38.53 593.79 37.82 594.08 37.51C594.38 37.19 594.88 36.65 595.18 36.63C595.48 36.61 595.86 37.29 596.35 37.36C596.83 37.43 597.92 37.27 598.83 37.14C599.75 37.01 602.05 36.46 603.21 36.41C604.38 36.36 606.53 36.48 607.60 36.78C608.67 37.07 610.52 38.02 611.25 38.60C611.98 39.19 612.78 40.48 613.08 41.16C613.37 41.84 613.59 43.18 613.44 43.71C613.29 44.25 612.56 44.88 611.98 45.18C611.39 45.47 609.79 45.76 609.06 45.91C608.33 46.05 606.97 46.06 606.50 46.27C606.03 46.49 605.89 47.40 605.55 47.51C605.21 47.63 604.35 47.36 603.94 47.15C603.54 46.93 603.17 46.12 602.48 45.91C601.80 45.69 599.49 45.47 598.83 45.54C598.17 45.61 597.91 46.25 597.52 46.42C597.13 46.58 596.24 46.89 595.91 46.78C595.58 46.68 595.42 45.88 595.03 45.61C594.64 45.35 593.55 45.06 592.99 44.81C592.42 44.56 591.33 44.01 590.80 43.71C590.26 43.42 588.97 43.01 588.97 42.62Z" fill="#000"/><path d="M613.29 43.57C613.93 43.96 616.34 45.15 617.09 45.91C617.85 46.66 618.07 47.43 617.82 48.10C617.58 48.77 616.85 49.56 615.63 49.92C614.41 50.29 612.22 50.41 610.52 50.29C608.81 50.17 606.74 49.50 605.41 49.19C604.07 48.89 602.97 48.58 602.48 48.46" fill="none" stroke="#000" stroke-width="0.75" stroke-linejoin="round"/><path d="M45.6 278.1H62.0M45.6 289.6H62.0M45.6 278.1V289.6M48.5 301.1H62.0M48.5 312.6H62.0M48.5 301.1V312.6M38.7 283.9H45.6M38.7 306.9H48.5M38.7 283.9V306.9M47.5 324.1H62.0M47.5 335.6H62.0M47.5 324.1V335.6M50.8 347.1H62.0M50.8 358.6H62.0M50.8 347.1V358.6M48.9 352.9H50.8M48.9 370.1H62.0M48.9 352.9V370.1M44.6 329.9H47.5M44.6 361.5H48.9M44.6 329.9V361.5M50.4 381.6H62.0M50.4 393.1H62.0M50.4 381.6V393.1M47.5 387.4H50.4M47.5 404.6H62.0M47.5 387.4V404.6M42.8 345.7H44.6M42.8 396.0H47.5M42.8 345.7V396.0M40.9 370.8H42.8M40.9 416.1H62.0M40.9 370.8V416.1M43.4 427.6H62.0M43.4 439.1H62.0M43.4 427.6V439.1M37.6 393.5H40.9M37.6 433.4H43.4M37.6 393.5V433.4M34.4 295.4H38.7M34.4 413.4H37.6M34.4 295.4V413.4M48.2 450.6H62.0M48.2 462.1H62.0M48.2 450.6V462.1M30.6 354.4H34.4M30.6 456.4H48.2M30.6 354.4V456.4M28.0 405.4H30.6M28.0 473.6H62.0M28.0 405.4V473.6M42.4 485.1H62.0M42.4 496.6H62.0M42.4 485.1V496.6M24.5 439.5H28.0M24.5 490.9H42.4M24.5 439.5V490.9M36.8 508.1H62.0M36.8 519.6H62.0M36.8 508.1V519.6M33.5 513.9H36.8M33.5 531.1H62.0M33.5 513.9V531.1M50.0 542.6H62.0M50.0 554.1H62.0M50.0 542.6V554.1M50.2 565.6H62.0M50.2 577.1H62.0M50.2 565.6V577.1M43.7 548.4H50.0M43.7 571.4H50.2M43.7 548.4V571.4M51.4 588.6H62.0M51.4 600.1H62.0M51.4 588.6V600.1M44.2 594.4H51.4M44.2 611.6H62.0M44.2 594.4V611.6M38.2 559.9H43.7M38.2 603.0H44.2M38.2 559.9V603.0M28.8 522.5H33.5M28.8 581.4H38.2M28.8 522.5V581.4M18.8 465.2H24.5M18.8 551.9H28.8M18.8 465.2V551.9M39.7 623.1H62.0M39.7 634.6H62.0M39.7 623.1V634.6M25.5 628.9H39.7M25.5 646.1H62.0M25.5 628.9V646.1M9.9 508.6H18.8M9.9 637.5H25.5M9.9 508.6V637.5" fill="none" stroke="#222" stroke-width="0.9" stroke-linecap="square"/><rect x="96.6" y="274.3" width="7.5" height="7.6" fill="#2E9BD8"/><rect x="123.1" y="274.3" width="16.5" height="7.6" fill="#EC8B72"/><rect x="96.6" y="285.8" width="12.4" height="7.6" fill="#2E9BD8"/><rect x="119.1" y="285.8" width="20.5" height="7.6" fill="#EC8B72"/><rect x="96.6" y="297.3" width="7.5" height="7.6" fill="#2E9BD8"/><rect x="129.6" y="297.3" width="10.0" height="7.6" fill="#EC8B72"/><rect x="96.6" y="308.8" width="6.1" height="7.6" fill="#2E9BD8"/><rect x="127.3" y="308.8" width="12.3" height="7.6" fill="#EC8B72"/><rect x="96.6" y="320.3" width="3.3" height="7.6" fill="#2E9BD8"/><rect x="133.8" y="320.3" width="5.8" height="7.6" fill="#EC8B72"/><rect x="96.6" y="331.8" width="6.1" height="7.6" fill="#2E9BD8"/><rect x="136.4" y="331.8" width="3.2" height="7.6" fill="#EC8B72"/><rect x="96.6" y="343.3" width="10.4" height="7.6" fill="#2E9BD8"/><rect x="118.0" y="343.3" width="21.6" height="7.6" fill="#EC8B72"/><rect x="96.6" y="354.8" width="18.0" height="7.6" fill="#2E9BD8"/><rect x="119.1" y="354.8" width="20.5" height="7.6" fill="#EC8B72"/><rect x="96.6" y="366.3" width="2.7" height="7.6" fill="#2E9BD8"/><rect x="130.4" y="366.3" width="9.2" height="7.6" fill="#EC8B72"/><rect x="96.6" y="377.8" width="2.2" height="7.6" fill="#2E9BD8"/><rect x="133.2" y="377.8" width="6.4" height="7.6" fill="#EC8B72"/><rect x="96.6" y="389.3" width="2.4" height="7.6" fill="#2E9BD8"/><rect x="133.0" y="389.3" width="6.6" height="7.6" fill="#EC8B72"/><rect x="96.6" y="400.8" width="4.7" height="7.6" fill="#2E9BD8"/><rect x="132.1" y="400.8" width="7.5" height="7.6" fill="#EC8B72"/><rect x="96.6" y="412.3" width="0.3" height="7.6" fill="#2E9BD8"/><rect x="136.6" y="412.3" width="3.0" height="7.6" fill="#EC8B72"/><rect x="96.6" y="423.8" width="2.7" height="7.6" fill="#2E9BD8"/><rect x="133.5" y="423.8" width="6.1" height="7.6" fill="#EC8B72"/><rect x="96.6" y="435.3" width="10.4" height="7.6" fill="#2E9BD8"/><rect x="129.6" y="435.3" width="10.0" height="7.6" fill="#EC8B72"/><rect x="96.6" y="446.8" width="9.0" height="7.6" fill="#2E9BD8"/><rect x="129.6" y="446.8" width="10.0" height="7.6" fill="#EC8B72"/><rect x="96.6" y="458.3" width="14.8" height="7.6" fill="#2E9BD8"/><rect x="121.6" y="458.3" width="18.0" height="7.6" fill="#EC8B72"/><rect x="96.6" y="469.8" width="3.3" height="7.6" fill="#2E9BD8"/><rect x="130.0" y="469.8" width="9.6" height="7.6" fill="#EC8B72"/><rect x="96.6" y="481.3" width="3.3" height="7.6" fill="#2E9BD8"/><rect x="133.8" y="481.3" width="5.8" height="7.6" fill="#EC8B72"/><rect x="96.6" y="492.8" width="6.2" height="7.6" fill="#2E9BD8"/><rect x="126.8" y="492.8" width="12.8" height="7.6" fill="#EC8B72"/><rect x="96.6" y="504.3" width="6.5" height="7.6" fill="#2E9BD8"/><rect x="126.2" y="504.3" width="13.4" height="7.6" fill="#EC8B72"/><rect x="96.6" y="515.8" width="10.0" height="7.6" fill="#2E9BD8"/><rect x="126.2" y="515.8" width="13.4" height="7.6" fill="#EC8B72"/><rect x="96.6" y="527.3" width="8.9" height="7.6" fill="#2E9BD8"/><rect x="127.7" y="527.3" width="11.9" height="7.6" fill="#EC8B72"/><rect x="96.6" y="538.8" width="0.7" height="7.6" fill="#2E9BD8"/><rect x="134.7" y="538.8" width="4.9" height="7.6" fill="#EC8B72"/><rect x="96.6" y="550.3" width="2.4" height="7.6" fill="#2E9BD8"/><rect x="129.4" y="550.3" width="10.2" height="7.6" fill="#EC8B72"/><rect x="96.6" y="561.8" width="4.5" height="7.6" fill="#2E9BD8"/><rect x="131.2" y="561.8" width="8.4" height="7.6" fill="#EC8B72"/><rect x="96.6" y="573.3" width="4.5" height="7.6" fill="#2E9BD8"/><rect x="126.5" y="573.3" width="13.1" height="7.6" fill="#EC8B72"/><rect x="96.6" y="584.8" width="6.5" height="7.6" fill="#2E9BD8"/><rect x="119.8" y="584.8" width="19.8" height="7.6" fill="#EC8B72"/><rect x="96.6" y="596.3" width="7.1" height="7.6" fill="#2E9BD8"/><rect x="118.9" y="596.3" width="20.7" height="7.6" fill="#EC8B72"/><rect x="96.6" y="607.8" width="7.1" height="7.6" fill="#2E9BD8"/><rect x="124.2" y="607.8" width="15.4" height="7.6" fill="#EC8B72"/><rect x="96.6" y="619.3" width="5.6" height="7.6" fill="#2E9BD8"/><rect x="96.6" y="630.8" width="2.4" height="7.6" fill="#2E9BD8"/><rect x="128.3" y="630.8" width="11.3" height="7.6" fill="#EC8B72"/><rect x="96.6" y="642.3" width="11.5" height="7.6" fill="#2E9BD8"/><rect x="128.5" y="642.3" width="11.1" height="7.6" fill="#EC8B72"/><path d="M141.60 645.68C148.12 643.58 154.64 640.83 157.90 640.68C160.24 640.83 165.05 644.18 170.90 645.18L174.80 645.43L174.80 645.93L170.90 646.18C165.05 647.18 160.24 650.53 157.90 650.68C154.64 650.53 148.12 647.78 141.60 645.68Z" fill="#E86068" stroke="#333" stroke-width="0.45"/><path d="M181.60 645.68C185.56 643.62 189.52 640.93 191.50 640.78C194.72 640.93 201.34 644.21 209.40 645.18L217.60 645.43L217.60 645.93L209.40 646.18C201.34 647.15 194.72 650.43 191.50 650.58C189.52 650.43 185.56 647.74 181.60 645.68Z" fill="#E86068" stroke="#333" stroke-width="0.45"/><path d="M142.00 634.14C145.36 632.04 148.72 629.29 150.40 629.14C152.36 629.29 156.40 632.64 161.30 633.64L173.70 633.89L173.70 634.39L161.30 634.64C156.40 635.64 152.36 638.99 150.40 639.14C148.72 638.99 145.36 636.24 142.00 634.14Z" fill="#E87050" stroke="#333" stroke-width="0.45"/><path d="M181.80 634.14C181.80 631.44 183.10 629.24 184.70 629.24C186.06 629.24 187.08 633.24 191.50 633.69L216.90 633.89L216.90 634.39L191.50 634.59C187.08 635.04 186.06 639.04 184.70 639.04C183.10 639.04 181.80 636.83 181.80 634.14Z" fill="#E87050" stroke="#333" stroke-width="0.45"/><path d="M143.20 622.60C147.44 620.84 151.68 618.53 153.80 618.40C155.15 618.53 157.93 621.34 161.30 622.10L165.50 622.35L165.50 622.85L161.30 623.10C157.93 623.86 155.15 626.67 153.80 626.80C151.68 626.67 147.44 624.36 143.20 622.60Z" fill="#E08030" stroke="#333" stroke-width="0.45"/><path d="M181.80 622.60C181.80 619.90 184.63 617.70 188.10 617.70C190.70 617.70 192.65 621.70 201.10 622.15L207.70 622.35L207.70 622.85L201.10 623.05C192.65 623.50 190.70 627.50 188.10 627.50C184.63 627.50 181.80 625.29 181.80 622.60Z" fill="#E08030" stroke="#333" stroke-width="0.45"/><path d="M142.00 611.06C145.60 608.96 149.20 606.21 151.00 606.06C153.11 606.21 157.44 609.56 162.70 610.56L168.50 610.81L168.50 611.31L162.70 611.56C157.44 612.56 153.11 615.91 151.00 616.06C149.20 615.91 145.60 613.16 142.00 611.06Z" fill="#D88828" stroke="#333" stroke-width="0.45"/><path d="M181.80 611.06C181.80 608.36 183.10 606.16 184.70 606.16C187.44 606.16 189.50 610.16 198.40 610.61L215.50 610.81L215.50 611.31L198.40 611.51C189.50 611.96 187.44 615.96 184.70 615.96C183.10 615.96 181.80 613.75 181.80 611.06Z" fill="#D88828" stroke="#333" stroke-width="0.45"/><path d="M142.00 599.52C146.44 597.42 150.88 594.67 153.10 594.52C155.82 594.67 161.41 598.02 168.20 599.02L176.20 599.27L176.20 599.77L168.20 600.02C161.41 601.02 155.82 604.37 153.10 604.52C150.88 604.37 146.44 601.62 142.00 599.52Z" fill="#C89028" stroke="#333" stroke-width="0.45"/><path d="M181.80 599.52C181.80 596.82 183.42 594.62 185.40 594.62C188.00 594.62 189.95 598.62 198.40 599.07L217.60 599.27L217.60 599.77L198.40 599.97C189.95 600.42 188.00 604.42 185.40 604.42C183.42 604.42 181.80 602.22 181.80 599.52Z" fill="#C89028" stroke="#333" stroke-width="0.45"/><path d="M142.00 587.98C147.00 585.88 152.00 583.13 154.50 582.98C157.22 583.13 162.81 586.48 169.60 587.48L176.70 587.73L176.70 588.23L169.60 588.48C162.81 589.48 157.22 592.83 154.50 592.98C152.00 592.83 147.00 590.08 142.00 587.98Z" fill="#B89828" stroke="#333" stroke-width="0.45"/><path d="M181.80 587.98C181.80 585.28 183.69 583.08 186.00 583.08C188.76 583.08 190.83 587.08 199.80 587.53L217.60 587.73L217.60 588.23L199.80 588.43C190.83 588.88 188.76 592.88 186.00 592.88C183.69 592.88 181.80 590.68 181.80 587.98Z" fill="#B89828" stroke="#333" stroke-width="0.45"/><path d="M142.00 576.44C146.72 574.34 151.44 571.59 153.80 571.44C156.39 571.59 161.72 574.94 168.20 575.94L174.00 576.19L174.00 576.69L168.20 576.94C161.72 577.94 156.39 581.29 153.80 581.44C151.44 581.29 146.72 578.54 142.00 576.44Z" fill="#A0A030" stroke="#333" stroke-width="0.45"/><path d="M181.80 576.44C181.80 573.74 184.00 571.54 186.70 571.54C189.04 571.54 190.79 575.54 198.40 575.99L217.60 576.19L217.60 576.69L198.40 576.89C190.79 577.34 189.04 581.34 186.70 581.34C184.00 581.34 181.80 579.13 181.80 576.44Z" fill="#A0A030" stroke="#333" stroke-width="0.45"/><path d="M142.00 564.90C146.44 562.80 150.88 560.05 153.10 559.90C155.57 560.05 160.63 563.40 166.80 564.40L176.40 564.65L176.40 565.15L166.80 565.40C160.63 566.40 155.57 569.75 153.10 569.90C150.88 569.75 146.44 567.00 142.00 564.90Z" fill="#88A838" stroke="#333" stroke-width="0.45"/><path d="M181.80 564.90C181.80 562.20 183.42 560.00 185.40 560.00C188.00 560.00 189.95 564.00 198.40 564.45L216.90 564.65L216.90 565.15L198.40 565.35C189.95 565.80 188.00 569.80 185.40 569.80C183.42 569.80 181.80 567.60 181.80 564.90Z" fill="#88A838" stroke="#333" stroke-width="0.45"/><path d="M142.00 553.36C145.76 551.26 149.52 548.51 151.40 548.36C153.79 548.51 158.72 551.86 164.70 552.86L176.80 553.11L176.80 553.61L164.70 553.86C158.72 554.86 153.79 558.21 151.40 558.36C149.52 558.21 145.76 555.46 142.00 553.36Z" fill="#70A840" stroke="#333" stroke-width="0.45"/><path d="M181.80 553.36C181.80 550.66 183.42 548.46 185.40 548.46C187.92 548.46 189.81 552.46 198.00 552.91L218.00 553.11L218.00 553.61L198.00 553.81C189.81 554.26 187.92 558.26 185.40 558.26C183.42 558.26 181.80 556.05 181.80 553.36Z" fill="#70A840" stroke="#333" stroke-width="0.45"/><path d="M142.00 541.82C146.00 539.72 150.00 536.97 152.00 536.82C153.80 536.97 157.50 540.32 162.00 541.32L172.50 541.57L172.50 542.07L162.00 542.32C157.50 543.32 153.80 546.67 152.00 546.82C150.00 546.67 146.00 543.92 142.00 541.82Z" fill="#58A850" stroke="#333" stroke-width="0.45"/><path d="M181.80 541.82C181.80 539.12 183.42 536.92 185.40 536.92C187.72 536.92 189.46 540.92 197.00 541.37L214.00 541.57L214.00 542.07L197.00 542.27C189.46 542.72 187.72 546.72 185.40 546.72C183.42 546.72 181.80 544.51 181.80 541.82Z" fill="#58A850" stroke="#333" stroke-width="0.45"/><path d="M142.00 530.28C147.08 528.18 152.16 525.43 154.70 525.28C157.45 525.43 163.12 528.78 170.00 529.78L176.80 530.03L176.80 530.53L170.00 530.78C163.12 531.78 157.45 535.13 154.70 535.28C152.16 535.13 147.08 532.38 142.00 530.28Z" fill="#20A850" stroke="#333" stroke-width="0.45"/><path d="M181.80 530.28C181.80 527.58 184.05 525.38 186.80 525.38C189.64 525.38 191.77 529.38 201.00 529.83L218.00 530.03L218.00 530.53L201.00 530.73C191.77 531.18 189.64 535.18 186.80 535.18C184.05 535.18 181.80 532.98 181.80 530.28Z" fill="#20A850" stroke="#333" stroke-width="0.45"/><path d="M142.00 518.74C145.76 516.64 149.52 513.89 151.40 513.74C153.67 513.89 158.33 517.24 164.00 518.24L167.70 518.49L167.70 518.99L164.00 519.24C158.33 520.24 153.67 523.59 151.40 523.74C149.52 523.59 145.76 520.84 142.00 518.74Z" fill="#18A858" stroke="#333" stroke-width="0.45"/><path d="M181.80 518.74C181.80 516.04 183.42 513.84 185.40 513.84C187.92 513.84 189.81 517.84 198.00 518.29L213.60 518.49L213.60 518.99L198.00 519.19C189.81 519.64 187.92 523.64 185.40 523.64C183.42 523.64 181.80 521.44 181.80 518.74Z" fill="#18A858" stroke="#333" stroke-width="0.45"/><path d="M142.00 507.20C146.80 505.10 151.60 502.35 154.00 502.20C156.65 502.35 162.08 505.70 168.70 506.70L173.00 506.95L173.00 507.45L168.70 507.70C162.08 508.70 156.65 512.05 154.00 512.20C151.60 512.05 146.80 509.30 142.00 507.20Z" fill="#14A860" stroke="#333" stroke-width="0.45"/><path d="M181.80 507.20C181.80 504.50 183.74 502.30 186.10 502.30C189.04 502.30 191.25 506.30 200.80 506.75L218.00 506.95L218.00 507.45L200.80 507.65C191.25 508.10 189.04 512.10 186.10 512.10C183.74 512.10 181.80 509.89 181.80 507.20Z" fill="#14A860" stroke="#333" stroke-width="0.45"/><path d="M142.00 495.66C145.88 493.56 149.76 490.81 151.70 490.66C153.88 490.81 158.35 494.16 163.80 495.16L171.40 495.41L171.40 495.91L163.80 496.16C158.35 497.16 153.88 500.51 151.70 500.66C149.76 500.51 145.88 497.76 142.00 495.66Z" fill="#14A070" stroke="#333" stroke-width="0.45"/><path d="M181.80 495.66C181.80 492.96 183.96 490.76 186.60 490.76C189.04 490.76 190.87 494.76 198.80 495.21L216.70 495.41L216.70 495.91L198.80 496.11C190.87 496.56 189.04 500.56 186.60 500.56C183.96 500.56 181.80 498.35 181.80 495.66Z" fill="#14A070" stroke="#333" stroke-width="0.45"/><path d="M142.00 484.12C144.64 482.02 147.28 479.27 148.60 479.12C150.53 479.27 154.49 482.62 159.30 483.62L167.60 483.87L167.60 484.37L159.30 484.62C154.49 485.62 150.53 488.97 148.60 489.12C147.28 488.97 144.64 486.22 142.00 484.12Z" fill="#10A080" stroke="#333" stroke-width="0.45"/><path d="M181.80 484.12C181.80 481.42 182.93 479.22 184.30 479.22C186.28 479.22 187.77 483.22 194.20 483.67L214.70 483.87L214.70 484.37L194.20 484.57C187.77 485.02 186.28 489.02 184.30 489.02C182.93 489.02 181.80 486.81 181.80 484.12Z" fill="#10A080" stroke="#333" stroke-width="0.45"/><path d="M142.00 472.58C144.36 470.48 146.72 467.73 147.90 467.58C150.22 467.73 155.00 471.08 160.80 472.08L169.90 472.33L169.90 472.83L160.80 473.08C155.00 474.08 150.22 477.43 147.90 477.58C146.72 477.43 144.36 474.68 142.00 472.58Z" fill="#0CA890" stroke="#333" stroke-width="0.45"/><path d="M181.80 472.58C181.80 469.88 183.28 467.68 185.10 467.68C187.22 467.68 188.81 471.68 195.70 472.13L216.70 472.33L216.70 472.83L195.70 473.03C188.81 473.48 187.22 477.48 185.10 477.48C183.28 477.48 181.80 475.27 181.80 472.58Z" fill="#0CA890" stroke="#333" stroke-width="0.45"/><path d="M142.00 461.04C146.80 458.94 151.60 456.19 154.00 456.04C156.32 456.19 161.09 459.54 166.90 460.54L175.70 460.79L175.70 461.29L166.90 461.54C161.09 462.54 156.32 465.89 154.00 466.04C151.60 465.89 146.80 463.14 142.00 461.04Z" fill="#10A8A0" stroke="#333" stroke-width="0.45"/><path d="M181.80 461.04C181.80 458.34 185.31 456.14 189.60 456.14C192.96 456.14 195.48 460.14 206.40 460.59L217.00 460.79L217.00 461.29L206.40 461.49C195.48 461.94 192.96 465.94 189.60 465.94C185.31 465.94 181.80 463.73 181.80 461.04Z" fill="#10A8A0" stroke="#333" stroke-width="0.45"/><path d="M142.00 449.50C146.48 447.40 150.96 444.65 153.20 444.50C154.96 444.65 158.59 448.00 163.00 449.00L169.90 449.25L169.90 449.75L163.00 450.00C158.59 451.00 154.96 454.35 153.20 454.50C150.96 454.35 146.48 451.60 142.00 449.50Z" fill="#14A8B8" stroke="#333" stroke-width="0.45"/><path d="M181.80 449.50C181.80 446.81 185.31 444.60 189.60 444.60C192.64 444.60 194.92 448.60 204.80 449.05L214.00 449.25L214.00 449.75L204.80 449.95C194.92 450.40 192.64 454.40 189.60 454.40C185.31 454.40 181.80 452.19 181.80 449.50Z" fill="#14A8B8" stroke="#333" stroke-width="0.45"/><path d="M142.00 437.96C146.16 435.86 150.32 433.11 152.40 432.96C154.31 433.11 158.23 436.46 163.00 437.46L171.40 437.71L171.40 438.21L163.00 438.46C158.23 439.46 154.31 442.81 152.40 442.96C150.32 442.81 146.16 440.06 142.00 437.96Z" fill="#14AAD8" stroke="#333" stroke-width="0.45"/><path d="M181.80 437.96C181.80 435.26 184.63 433.06 188.10 433.06C190.84 433.06 192.90 437.06 201.80 437.51L216.20 437.71L216.20 438.21L201.80 438.41C192.90 438.86 190.84 442.86 188.10 442.86C184.63 442.86 181.80 440.65 181.80 437.96Z" fill="#14AAD8" stroke="#333" stroke-width="0.45"/><path d="M142.00 426.42C142.00 423.45 143.98 421.02 146.40 421.02C148.66 421.02 150.35 425.52 157.70 425.97L174.90 426.17L174.90 426.67L157.70 426.87C150.35 427.32 148.66 431.82 146.40 431.82C143.98 431.82 142.00 429.39 142.00 426.42Z" fill="#14A0E0" stroke="#333" stroke-width="0.45"/><path d="M181.80 426.42C181.80 423.72 182.61 421.52 183.60 421.52C185.42 421.52 186.78 425.52 192.70 425.97L217.30 426.17L217.30 426.67L192.70 426.87C186.78 427.32 185.42 431.32 183.60 431.32C182.61 431.32 181.80 429.11 181.80 426.42Z" fill="#14A0E0" stroke="#333" stroke-width="0.45"/><path d="M142.00 414.88C145.88 412.78 149.76 410.03 151.70 409.88C153.88 410.03 158.35 413.38 163.80 414.38L172.60 414.63L172.60 415.13L163.80 415.38C158.35 416.38 153.88 419.73 151.70 419.88C149.76 419.73 145.88 416.98 142.00 414.88Z" fill="#2C96D8" stroke="#333" stroke-width="0.45"/><path d="M181.80 414.88C181.80 412.19 183.65 409.98 185.90 409.98C188.48 409.98 190.42 413.98 198.80 414.43L217.30 414.63L217.30 415.13L198.80 415.33C190.42 415.78 188.48 419.78 185.90 419.78C183.65 419.78 181.80 417.57 181.80 414.88Z" fill="#2C96D8" stroke="#333" stroke-width="0.45"/><path d="M142.00 403.34C146.48 401.24 150.96 398.49 153.20 398.34C155.94 398.49 161.56 401.84 168.40 402.84L175.20 403.09L175.20 403.59L168.40 403.84C161.56 404.84 155.94 408.19 153.20 408.34C150.96 408.19 146.48 405.44 142.00 403.34Z" fill="#3C8CD4" stroke="#333" stroke-width="0.45"/><path d="M181.80 403.34C181.80 400.64 183.96 398.44 186.60 398.44C189.64 398.44 191.92 402.44 201.80 402.89L217.30 403.09L217.30 403.59L201.80 403.79C191.92 404.24 189.64 408.24 186.60 408.24C183.96 408.24 181.80 406.03 181.80 403.34Z" fill="#3C8CD4" stroke="#333" stroke-width="0.45"/><path d="M142.00 391.80C147.12 389.70 152.24 386.95 154.80 386.80C157.03 386.95 161.62 390.30 167.20 391.30L176.70 391.55L176.70 392.05L167.20 392.30C161.62 393.30 157.03 396.65 154.80 396.80C152.24 396.65 147.12 393.90 142.00 391.80Z" fill="#5C8CD0" stroke="#333" stroke-width="0.45"/><path d="M181.80 391.80C181.80 389.10 183.78 386.90 186.20 386.90C190.30 386.90 193.38 390.90 206.70 391.35L217.60 391.55L217.60 392.05L206.70 392.25C193.38 392.70 190.30 396.70 186.20 396.70C183.78 396.70 181.80 394.49 181.80 391.80Z" fill="#5C8CD0" stroke="#333" stroke-width="0.45"/><path d="M142.00 380.26C145.36 378.16 148.72 375.41 150.40 375.26C152.90 375.41 158.05 378.76 164.30 379.76L176.30 380.01L176.30 380.51L164.30 380.76C158.05 381.76 152.90 385.11 150.40 385.26C148.72 385.11 145.36 382.36 142.00 380.26Z" fill="#7C80C4" stroke="#333" stroke-width="0.45"/><path d="M181.80 380.26C181.80 377.56 183.10 375.36 184.70 375.36C188.20 375.36 190.82 379.36 202.20 379.81L215.50 380.01L215.50 380.51L202.20 380.71C190.82 381.16 188.20 385.16 184.70 385.16C183.10 385.16 181.80 382.95 181.80 380.26Z" fill="#7C80C4" stroke="#333" stroke-width="0.45"/><path d="M142.00 368.72C146.80 366.62 151.60 363.87 154.00 363.72C156.38 363.87 161.26 367.22 167.20 368.22L175.70 368.47L175.70 368.97L167.20 369.22C161.26 370.22 156.38 373.57 154.00 373.72C151.60 373.57 146.80 370.82 142.00 368.72Z" fill="#8C7CBC" stroke="#333" stroke-width="0.45"/><path d="M181.80 368.72C181.80 366.02 183.78 363.82 186.20 363.82C190.00 363.82 192.85 367.82 205.20 368.27L216.90 368.47L216.90 368.97L205.20 369.17C192.85 369.62 190.00 373.62 186.20 373.62C183.78 373.62 181.80 371.41 181.80 368.72Z" fill="#8C7CBC" stroke="#333" stroke-width="0.45"/><path d="M142.00 357.18C145.64 355.08 149.28 352.33 151.10 352.18C153.48 352.33 158.36 355.68 164.30 356.68L172.80 356.93L172.80 357.43L164.30 357.68C158.36 358.68 153.48 362.03 151.10 362.18C149.28 362.03 145.64 359.28 142.00 357.18Z" fill="#9C74B4" stroke="#333" stroke-width="0.45"/><path d="M181.80 357.18C181.80 354.48 183.10 352.28 184.70 352.28C188.20 352.28 190.82 356.28 202.20 356.73L216.00 356.93L216.00 357.43L202.20 357.63C190.82 358.08 188.20 362.08 184.70 362.08C183.10 362.08 181.80 359.87 181.80 357.18Z" fill="#9C74B4" stroke="#333" stroke-width="0.45"/><path d="M142.00 345.64C145.36 343.54 148.72 340.79 150.40 340.64C152.63 340.79 157.22 344.14 162.80 345.14L171.60 345.39L171.60 345.89L162.80 346.14C157.22 347.14 152.63 350.49 150.40 350.64C148.72 350.49 145.36 347.74 142.00 345.64Z" fill="#A870A8" stroke="#333" stroke-width="0.45"/><path d="M181.80 345.64C181.80 342.94 183.10 340.74 184.70 340.74C187.92 340.74 190.34 344.74 200.80 345.19L217.60 345.39L217.60 345.89L200.80 346.09C190.34 346.54 187.92 350.54 184.70 350.54C183.10 350.54 181.80 348.33 181.80 345.64Z" fill="#A870A8" stroke="#333" stroke-width="0.45"/><path d="M142.00 334.10C146.80 332.00 151.60 329.25 154.00 329.10C156.12 329.25 160.49 332.60 165.80 333.60L172.80 333.85L172.80 334.35L165.80 334.60C160.49 335.60 156.12 338.95 154.00 339.10C151.60 338.95 146.80 336.20 142.00 334.10Z" fill="#B86AA8" stroke="#333" stroke-width="0.45"/><path d="M181.80 334.10C181.80 331.40 184.46 329.20 187.70 329.20C191.50 329.20 194.35 333.20 206.70 333.65L216.90 333.85L216.90 334.35L206.70 334.55C194.35 335.00 191.50 339.00 187.70 339.00C184.46 339.00 181.80 336.79 181.80 334.10Z" fill="#B86AA8" stroke="#333" stroke-width="0.45"/><path d="M142.00 322.56C145.96 320.46 149.92 317.71 151.90 317.56C154.40 317.71 159.55 321.06 165.80 322.06L173.80 322.31L173.80 322.81L165.80 323.06C159.55 324.06 154.40 327.41 151.90 327.56C149.92 327.41 145.96 324.66 142.00 322.56Z" fill="#D068A8" stroke="#333" stroke-width="0.45"/><path d="M181.80 322.56C181.80 319.86 183.47 317.66 185.50 317.66C188.56 317.66 190.86 321.66 200.80 322.11L217.60 322.31L217.60 322.81L200.80 323.01C190.86 323.46 188.56 327.46 185.50 327.46C183.47 327.46 181.80 325.25 181.80 322.56Z" fill="#D068A8" stroke="#333" stroke-width="0.45"/><path d="M142.00 311.02C145.08 308.92 148.16 306.17 149.70 306.02C151.81 306.17 156.13 309.52 161.40 310.52L171.90 310.77L171.90 311.27L161.40 311.52C156.13 312.52 151.81 315.87 149.70 316.02C148.16 315.87 145.08 313.12 142.00 311.02Z" fill="#E068A8" stroke="#333" stroke-width="0.45"/><path d="M181.80 311.02C181.80 308.32 183.10 306.12 184.70 306.12C187.04 306.12 188.79 310.12 196.40 310.57L209.60 310.77L209.60 311.27L196.40 311.47C188.79 311.92 187.04 315.92 184.70 315.92C183.10 315.92 181.80 313.71 181.80 311.02Z" fill="#E068A8" stroke="#333" stroke-width="0.45"/><path d="M142.00 299.48C145.20 297.38 148.40 294.63 150.00 294.48C152.88 294.63 158.80 297.98 166.00 298.98L173.00 299.23L173.00 299.73L166.00 299.98C158.80 300.98 152.88 304.33 150.00 304.48C148.40 304.33 145.20 301.58 142.00 299.48Z" fill="#E864A0" stroke="#333" stroke-width="0.45"/><path d="M181.80 299.48C181.80 296.78 182.79 294.58 184.00 294.58C186.80 294.58 188.90 298.58 198.00 299.03L215.50 299.23L215.50 299.73L198.00 299.93C188.90 300.38 186.80 304.38 184.00 304.38C182.79 304.38 181.80 302.17 181.80 299.48Z" fill="#E864A0" stroke="#333" stroke-width="0.45"/><path d="M142.00 287.94C145.48 285.84 148.96 283.09 150.70 282.94C152.99 283.09 157.69 286.44 163.40 287.44L168.00 287.69L168.00 288.19L163.40 288.44C157.69 289.44 152.99 292.79 150.70 292.94C148.96 292.79 145.48 290.04 142.00 287.94Z" fill="#E8609A" stroke="#333" stroke-width="0.45"/><path d="M181.80 287.94C181.80 285.25 182.79 283.04 184.00 283.04C186.40 283.04 188.20 287.04 196.00 287.49L214.80 287.69L214.80 288.19L196.00 288.39C188.20 288.84 186.40 292.84 184.00 292.84C182.79 292.84 181.80 290.63 181.80 287.94Z" fill="#E8609A" stroke="#333" stroke-width="0.45"/><path d="M142.00 276.40C145.48 274.30 148.96 271.55 150.70 271.40C152.99 271.55 157.69 274.90 163.40 275.90L172.00 276.15L172.00 276.65L163.40 276.90C157.69 277.90 152.99 281.25 150.70 281.40C148.96 281.25 145.48 278.50 142.00 276.40Z" fill="#E06880" stroke="#333" stroke-width="0.45"/><path d="M181.80 276.40C181.80 273.70 183.42 271.50 185.40 271.50C187.92 271.50 189.81 275.50 198.00 275.95L214.80 276.15L214.80 276.65L198.00 276.85C189.81 277.30 187.92 281.30 185.40 281.30C183.42 281.30 181.80 279.09 181.80 276.40Z" fill="#E06880" stroke="#333" stroke-width="0.45"/><path d="M96.4 269.4V653.4M139.6 269.4V652.6M179.5 269.4V652.6M219.6 269.4V652.6M96.4 269.4H219.6M139.6 652.6H219.6" fill="none" stroke="#333" stroke-width="0.8"/><path d="M94.4 278.1H96.4M94.4 289.6H96.4M94.4 301.1H96.4M94.4 312.6H96.4M94.4 324.1H96.4M94.4 335.6H96.4M94.4 347.1H96.4M94.4 358.6H96.4M94.4 370.1H96.4M94.4 381.6H96.4M94.4 393.1H96.4M94.4 404.6H96.4M94.4 416.1H96.4M94.4 427.6H96.4M94.4 439.1H96.4M94.4 450.6H96.4M94.4 462.1H96.4M94.4 473.6H96.4M94.4 485.1H96.4M94.4 496.6H96.4M94.4 508.1H96.4M94.4 519.6H96.4M94.4 531.1H96.4M94.4 542.6H96.4M94.4 554.1H96.4M94.4 565.6H96.4M94.4 577.1H96.4M94.4 588.6H96.4M94.4 600.1H96.4M94.4 611.6H96.4M94.4 623.1H96.4M94.4 634.6H96.4M94.4 646.1H96.4" stroke="#333" stroke-width="0.7"/><path d="M96.4 653.4H117.8M96.7 653.4v2M103.8 653.4v2M110.8 653.4v2M117.7 653.4v2" stroke="#8CC8EA" stroke-width="1"/><path d="M117.8 653.4H139.6M125.3 653.4v2M132.5 653.4v2M139.4 653.4v2" stroke="#F4B4A4" stroke-width="1"/><path d="M154.5 652.5v2M169.7 652.5v2M192.8 652.5v2M205.5 652.5v2M218 652.5v2" stroke="#333" stroke-width="0.7"/><g font-size="8.5" fill="#333" font-family="Liberation Sans, Arial, sans-serif"><text x="66.4" y="649.1">TM01</text><text x="66.4" y="637.6">TM02</text><text x="66.4" y="626.1">TM03</text><text x="66.4" y="614.6">TM04</text><text x="66.4" y="603.1">TM05</text><text x="66.4" y="591.6">TM06</text><text x="66.4" y="580.1">TM07</text><text x="66.4" y="568.6">TM08</text><text x="66.4" y="557.1">TM09</text><text x="66.4" y="545.6">TM10</text><text x="66.4" y="534.1">TM11</text><text x="66.4" y="522.6">TM12</text><text x="66.4" y="511.1">TM13</text><text x="66.4" y="499.6">TM14</text><text x="66.4" y="488.1">TM15</text><text x="66.4" y="476.6">TM16</text><text x="66.4" y="465.1">TM17</text><text x="66.4" y="453.6">TM18</text><text x="66.4" y="442.1">TM19</text><text x="66.4" y="430.6">TM20</text><text x="66.4" y="419.1">TM21</text><text x="66.4" y="407.6">TM22</text><text x="66.4" y="396.1">TM23</text><text x="66.4" y="384.6">TM24</text><text x="66.4" y="373.1">TM25</text><text x="66.4" y="361.6">TM26</text><text x="66.4" y="350.1">TM27</text><text x="66.4" y="338.6">TM28</text><text x="66.4" y="327.1">TM29</text><text x="66.4" y="315.6">TM30</text><text x="66.4" y="304.1">TM31</text><text x="66.4" y="292.6">TM32</text><text x="66.4" y="281.1">TM33</text></g><text x="1" y="250" font-size="12" font-family="Liberation Sans, Arial, sans-serif" fill="#111">E</text><g font-size="7.3" fill="#333" font-family="Liberation Sans, Arial, sans-serif"><text x="13.7" y="266.6">#Cluster Tree</text><text x="63.5" y="266.6">#Cluster</text><text x="96.7" y="266.6">#Cells</text><text x="139.8" y="266.6">#Genes</text><text x="179.9" y="266.6">#UMIs</text><text x="224.3" y="266.6">#DEI</text></g><text x="84.4" y="249.4" font-size="6.6" fill="#3AA0DC" font-family="Liberation Sans, Arial, sans-serif">Tree Shrew</text><text x="121.2" y="249.4" font-size="6.6" fill="#EC8B72" font-family="Liberation Sans, Arial, sans-serif">Mouse</text><rect x="94.8" y="252.3" width="15.8" height="4.4" fill="#2E9BD8"/><rect x="122.5" y="252.3" width="15.8" height="4.4" fill="#EC8B72"/><g font-size="7" font-family="Liberation Sans, Arial, sans-serif" text-anchor="middle"><text x="108.8" y="662.5" fill="#3AA0DC">1</text><text x="124.1" y="662.5" fill="#EC8B72">1</text><g fill="#333"><text x="117" y="670.8">thousand</text><text x="163" y="670.8">thousand</text><text x="206" y="670.8">thousand</text><text x="154.5" y="662.5">2</text><text x="169.7" y="662.5">4</text><text x="192.8" y="662.5">5</text><text x="205.6" y="662.5">10</text><text x="218" y="662.5">15</text></g></g><g fill="#c4c4c4"><circle cx="233.0" cy="276.4" r="0.70"/><circle cx="243.2" cy="276.4" r="0.70"/><circle cx="263.8" cy="276.4" r="0.70"/><circle cx="274.0" cy="276.4" r="0.70"/><circle cx="284.2" cy="276.4" r="0.70"/><circle cx="304.8" cy="276.4" r="0.70"/><circle cx="315.0" cy="276.4" r="0.70"/><circle cx="325.2" cy="276.4" r="0.70"/><circle cx="335.5" cy="276.4" r="0.70"/><circle cx="356.0" cy="276.4" r="0.70"/><circle cx="376.5" cy="276.4" r="0.70"/><circle cx="386.8" cy="276.4" r="0.70"/><circle cx="397.0" cy="276.4" r="0.70"/><circle cx="417.5" cy="276.4" r="0.70"/><circle cx="438.0" cy="276.4" r="0.70"/><circle cx="448.2" cy="276.4" r="0.70"/><circle cx="458.5" cy="276.4" r="0.70"/><circle cx="468.8" cy="276.4" r="0.70"/><circle cx="479.0" cy="276.4" r="0.70"/><circle cx="489.2" cy="276.4" r="0.70"/><circle cx="499.5" cy="276.4" r="0.70"/><circle cx="509.8" cy="276.4" r="0.70"/><circle cx="520.0" cy="276.4" r="0.70"/><circle cx="530.2" cy="276.4" r="0.70"/><circle cx="540.5" cy="276.4" r="0.70"/><circle cx="550.8" cy="276.4" r="0.70"/><circle cx="561.0" cy="276.4" r="0.70"/><circle cx="571.2" cy="276.4" r="0.70"/><circle cx="581.5" cy="276.4" r="0.70"/><circle cx="591.8" cy="276.4" r="0.70"/><circle cx="233.0" cy="287.9" r="0.70"/><circle cx="243.2" cy="287.9" r="0.70"/><circle cx="263.8" cy="287.9" r="0.70"/><circle cx="274.0" cy="287.9" r="0.70"/><circle cx="284.2" cy="287.9" r="0.70"/><circle cx="304.8" cy="287.9" r="0.70"/><circle cx="315.0" cy="287.9" r="0.70"/><circle cx="325.2" cy="287.9" r="0.70"/><circle cx="335.5" cy="287.9" r="0.70"/><circle cx="345.8" cy="287.9" r="0.70"/><circle cx="356.0" cy="287.9" r="0.70"/><circle cx="366.2" cy="287.9" r="0.70"/><circle cx="376.5" cy="287.9" r="0.70"/><circle cx="386.8" cy="287.9" r="0.70"/><circle cx="397.0" cy="287.9" r="0.70"/><circle cx="417.5" cy="287.9" r="0.70"/><circle cx="448.2" cy="287.9" r="0.70"/><circle cx="458.5" cy="287.9" r="0.70"/><circle cx="468.8" cy="287.9" r="0.70"/><circle cx="479.0" cy="287.9" r="0.70"/><circle cx="499.5" cy="287.9" r="0.70"/><circle cx="509.8" cy="287.9" r="0.70"/><circle cx="520.0" cy="287.9" r="0.70"/><circle cx="530.2" cy="287.9" r="0.70"/><circle cx="540.5" cy="287.9" r="0.70"/><circle cx="561.0" cy="287.9" r="0.70"/><circle cx="571.2" cy="287.9" r="0.70"/><circle cx="581.5" cy="287.9" r="0.70"/><circle cx="591.8" cy="287.9" r="0.70"/><circle cx="233.0" cy="299.5" r="0.70"/><circle cx="253.5" cy="299.5" r="0.70"/><circle cx="263.8" cy="299.5" r="0.70"/><circle cx="274.0" cy="299.5" r="0.70"/><circle cx="284.2" cy="299.5" r="0.70"/><circle cx="294.5" cy="299.5" r="0.70"/><circle cx="304.8" cy="299.5" r="0.70"/><circle cx="315.0" cy="299.5" r="0.70"/><circle cx="325.2" cy="299.5" r="0.70"/><circle cx="335.5" cy="299.5" r="0.70"/><circle cx="345.8" cy="299.5" r="0.70"/><circle cx="356.0" cy="299.5" r="0.70"/><circle cx="376.5" cy="299.5" r="0.70"/><circle cx="386.8" cy="299.5" r="0.70"/><circle cx="397.0" cy="299.5" r="0.70"/><circle cx="427.8" cy="299.5" r="0.70"/><circle cx="438.0" cy="299.5" r="0.70"/><circle cx="448.2" cy="299.5" r="0.70"/><circle cx="458.5" cy="299.5" r="0.70"/><circle cx="468.8" cy="299.5" r="0.70"/><circle cx="479.0" cy="299.5" r="0.70"/><circle cx="489.2" cy="299.5" r="0.70"/><circle cx="499.5" cy="299.5" r="0.70"/><circle cx="509.8" cy="299.5" r="0.70"/><circle cx="520.0" cy="299.5" r="0.70"/><circle cx="530.2" cy="299.5" r="0.70"/><circle cx="540.5" cy="299.5" r="0.70"/><circle cx="550.8" cy="299.5" r="0.70"/><circle cx="561.0" cy="299.5" r="0.70"/><circle cx="571.2" cy="299.5" r="0.70"/><circle cx="581.5" cy="299.5" r="0.70"/><circle cx="612.2" cy="299.5" r="0.70"/><circle cx="622.5" cy="299.5" r="0.70"/><circle cx="253.5" cy="311.0" r="0.70"/><circle cx="263.8" cy="311.0" r="0.70"/><circle cx="274.0" cy="311.0" r="0.70"/><circle cx="284.2" cy="311.0" r="0.70"/><circle cx="294.5" cy="311.0" r="0.70"/><circle cx="304.8" cy="311.0" r="0.70"/><circle cx="315.0" cy="311.0" r="0.70"/><circle cx="325.2" cy="311.0" r="0.70"/><circle cx="335.5" cy="311.0" r="0.70"/><circle cx="356.0" cy="311.0" r="0.70"/><circle cx="376.5" cy="311.0" r="0.70"/><circle cx="386.8" cy="311.0" r="0.70"/><circle cx="397.0" cy="311.0" r="0.70"/><circle cx="427.8" cy="311.0" r="0.70"/><circle cx="438.0" cy="311.0" r="0.70"/><circle cx="448.2" cy="311.0" r="0.70"/><circle cx="458.5" cy="311.0" r="0.70"/><circle cx="468.8" cy="311.0" r="0.70"/><circle cx="479.0" cy="311.0" r="0.70"/><circle cx="489.2" cy="311.0" r="0.70"/><circle cx="499.5" cy="311.0" r="0.70"/><circle cx="509.8" cy="311.0" r="0.70"/><circle cx="520.0" cy="311.0" r="0.70"/><circle cx="530.2" cy="311.0" r="0.70"/><circle cx="540.5" cy="311.0" r="0.70"/><circle cx="550.8" cy="311.0" r="0.70"/><circle cx="561.0" cy="311.0" r="0.70"/><circle cx="571.2" cy="311.0" r="0.70"/><circle cx="591.8" cy="311.0" r="0.70"/><circle cx="612.2" cy="311.0" r="0.70"/><circle cx="622.5" cy="311.0" r="0.70"/><circle cx="233.0" cy="322.6" r="0.70"/><circle cx="243.2" cy="322.6" r="0.70"/><circle cx="253.5" cy="322.6" r="0.70"/><circle cx="263.8" cy="322.6" r="0.70"/><circle cx="274.0" cy="322.6" r="0.70"/><circle cx="284.2" cy="322.6" r="0.70"/><circle cx="294.5" cy="322.6" r="0.70"/><circle cx="304.8" cy="322.6" r="0.70"/><circle cx="315.0" cy="322.6" r="0.70"/><circle cx="345.8" cy="322.6" r="0.70"/><circle cx="356.0" cy="322.6" r="0.70"/><circle cx="366.2" cy="322.6" r="0.70"/><circle cx="376.5" cy="322.6" r="0.70"/><circle cx="386.8" cy="322.6" r="0.70"/><circle cx="407.2" cy="322.6" r="0.70"/><circle cx="417.5" cy="322.6" r="0.70"/><circle cx="427.8" cy="322.6" r="0.70"/><circle cx="448.2" cy="322.6" r="0.70"/><circle cx="458.5" cy="322.6" r="0.70"/><circle cx="468.8" cy="322.6" r="0.70"/><circle cx="489.2" cy="322.6" r="0.70"/><circle cx="499.5" cy="322.6" r="0.70"/><circle cx="509.8" cy="322.6" r="0.70"/><circle cx="520.0" cy="322.6" r="0.70"/><circle cx="530.2" cy="322.6" r="0.70"/><circle cx="540.5" cy="322.6" r="0.70"/><circle cx="550.8" cy="322.6" r="0.70"/><circle cx="581.5" cy="322.6" r="0.70"/><circle cx="591.8" cy="322.6" r="0.70"/><circle cx="602.0" cy="322.6" r="0.70"/><circle cx="612.2" cy="322.6" r="0.70"/><circle cx="233.0" cy="334.1" r="0.70"/><circle cx="243.2" cy="334.1" r="0.70"/><circle cx="253.5" cy="334.1" r="0.70"/><circle cx="263.8" cy="334.1" r="0.70"/><circle cx="274.0" cy="334.1" r="0.70"/><circle cx="284.2" cy="334.1" r="0.70"/><circle cx="294.5" cy="334.1" r="0.70"/><circle cx="304.8" cy="334.1" r="0.70"/><circle cx="325.2" cy="334.1" r="0.70"/><circle cx="345.8" cy="334.1" r="0.70"/><circle cx="366.2" cy="334.1" r="0.70"/><circle cx="376.5" cy="334.1" r="0.70"/><circle cx="417.5" cy="334.1" r="0.70"/><circle cx="427.8" cy="334.1" r="0.70"/><circle cx="438.0" cy="334.1" r="0.70"/><circle cx="448.2" cy="334.1" r="0.70"/><circle cx="458.5" cy="334.1" r="0.70"/><circle cx="479.0" cy="334.1" r="0.70"/><circle cx="489.2" cy="334.1" r="0.70"/><circle cx="499.5" cy="334.1" r="0.70"/><circle cx="509.8" cy="334.1" r="0.70"/><circle cx="520.0" cy="334.1" r="0.70"/><circle cx="530.2" cy="334.1" r="0.70"/><circle cx="540.5" cy="334.1" r="0.70"/><circle cx="561.0" cy="334.1" r="0.70"/><circle cx="571.2" cy="334.1" r="0.70"/><circle cx="581.5" cy="334.1" r="0.70"/><circle cx="591.8" cy="334.1" r="0.70"/><circle cx="612.2" cy="334.1" r="0.70"/><circle cx="233.0" cy="345.6" r="0.70"/><circle cx="243.2" cy="345.6" r="0.70"/><circle cx="253.5" cy="345.6" r="0.70"/><circle cx="263.8" cy="345.6" r="0.70"/><circle cx="274.0" cy="345.6" r="0.70"/><circle cx="284.2" cy="345.6" r="0.70"/><circle cx="294.5" cy="345.6" r="0.70"/><circle cx="304.8" cy="345.6" r="0.70"/><circle cx="315.0" cy="345.6" r="0.70"/><circle cx="325.2" cy="345.6" r="0.70"/><circle cx="335.5" cy="345.6" r="0.70"/><circle cx="345.8" cy="345.6" r="0.70"/><circle cx="356.0" cy="345.6" r="0.70"/><circle cx="366.2" cy="345.6" r="0.70"/><circle cx="376.5" cy="345.6" r="0.70"/><circle cx="386.8" cy="345.6" r="0.70"/><circle cx="397.0" cy="345.6" r="0.70"/><circle cx="407.2" cy="345.6" r="0.70"/><circle cx="417.5" cy="345.6" r="0.70"/><circle cx="427.8" cy="345.6" r="0.70"/><circle cx="438.0" cy="345.6" r="0.70"/><circle cx="448.2" cy="345.6" r="0.70"/><circle cx="458.5" cy="345.6" r="0.70"/><circle cx="468.8" cy="345.6" r="0.70"/><circle cx="479.0" cy="345.6" r="0.70"/><circle cx="499.5" cy="345.6" r="0.70"/><circle cx="509.8" cy="345.6" r="0.70"/><circle cx="530.2" cy="345.6" r="0.70"/><circle cx="550.8" cy="345.6" r="0.70"/><circle cx="561.0" cy="345.6" r="0.70"/><circle cx="571.2" cy="345.6" r="0.70"/><circle cx="581.5" cy="345.6" r="0.70"/><circle cx="602.0" cy="345.6" r="0.70"/><circle cx="612.2" cy="345.6" r="0.70"/><circle cx="233.0" cy="357.2" r="0.70"/><circle cx="243.2" cy="357.2" r="0.70"/><circle cx="253.5" cy="357.2" r="0.70"/><circle cx="263.8" cy="357.2" r="0.70"/><circle cx="274.0" cy="357.2" r="0.70"/><circle cx="284.2" cy="357.2" r="0.70"/><circle cx="294.5" cy="357.2" r="0.70"/><circle cx="304.8" cy="357.2" r="0.70"/><circle cx="315.0" cy="357.2" r="0.70"/><circle cx="335.5" cy="357.2" r="0.70"/><circle cx="345.8" cy="357.2" r="0.70"/><circle cx="356.0" cy="357.2" r="0.70"/><circle cx="366.2" cy="357.2" r="0.70"/><circle cx="376.5" cy="357.2" r="0.70"/><circle cx="386.8" cy="357.2" r="0.70"/><circle cx="397.0" cy="357.2" r="0.70"/><circle cx="407.2" cy="357.2" r="0.70"/><circle cx="417.5" cy="357.2" r="0.70"/><circle cx="427.8" cy="357.2" r="0.70"/><circle cx="448.2" cy="357.2" r="0.70"/><circle cx="458.5" cy="357.2" r="0.70"/><circle cx="468.8" cy="357.2" r="0.70"/><circle cx="489.2" cy="357.2" r="0.70"/><circle cx="499.5" cy="357.2" r="0.70"/><circle cx="509.8" cy="357.2" r="0.70"/><circle cx="520.0" cy="357.2" r="0.70"/><circle cx="550.8" cy="357.2" r="0.70"/><circle cx="561.0" cy="357.2" r="0.70"/><circle cx="571.2" cy="357.2" r="0.70"/><circle cx="581.5" cy="357.2" r="0.70"/><circle cx="591.8" cy="357.2" r="0.70"/><circle cx="602.0" cy="357.2" r="0.70"/><circle cx="612.2" cy="357.2" r="0.70"/><circle cx="243.2" cy="368.7" r="0.70"/><circle cx="253.5" cy="368.7" r="0.70"/><circle cx="263.8" cy="368.7" r="0.70"/><circle cx="274.0" cy="368.7" r="0.70"/><circle cx="304.8" cy="368.7" r="0.70"/><circle cx="315.0" cy="368.7" r="0.70"/><circle cx="325.2" cy="368.7" r="0.70"/><circle cx="345.8" cy="368.7" r="0.70"/><circle cx="356.0" cy="368.7" r="0.70"/><circle cx="366.2" cy="368.7" r="0.70"/><circle cx="376.5" cy="368.7" r="0.70"/><circle cx="386.8" cy="368.7" r="0.70"/><circle cx="397.0" cy="368.7" r="0.70"/><circle cx="417.5" cy="368.7" r="0.70"/><circle cx="427.8" cy="368.7" r="0.70"/><circle cx="438.0" cy="368.7" r="0.70"/><circle cx="458.5" cy="368.7" r="0.70"/><circle cx="468.8" cy="368.7" r="0.70"/><circle cx="479.0" cy="368.7" r="0.70"/><circle cx="489.2" cy="368.7" r="0.70"/><circle cx="509.8" cy="368.7" r="0.70"/><circle cx="530.2" cy="368.7" r="0.70"/><circle cx="540.5" cy="368.7" r="0.70"/><circle cx="550.8" cy="368.7" r="0.70"/><circle cx="561.0" cy="368.7" r="0.70"/><circle cx="571.2" cy="368.7" r="0.70"/><circle cx="581.5" cy="368.7" r="0.70"/><circle cx="591.8" cy="368.7" r="0.70"/><circle cx="602.0" cy="368.7" r="0.70"/><circle cx="612.2" cy="368.7" r="0.70"/><circle cx="243.2" cy="380.3" r="0.70"/><circle cx="253.5" cy="380.3" r="0.70"/><circle cx="263.8" cy="380.3" r="0.70"/><circle cx="274.0" cy="380.3" r="0.70"/><circle cx="284.2" cy="380.3" r="0.70"/><circle cx="294.5" cy="380.3" r="0.70"/><circle cx="304.8" cy="380.3" r="0.70"/><circle cx="315.0" cy="380.3" r="0.70"/><circle cx="325.2" cy="380.3" r="0.70"/><circle cx="335.5" cy="380.3" r="0.70"/><circle cx="345.8" cy="380.3" r="0.70"/><circle cx="356.0" cy="380.3" r="0.70"/><circle cx="386.8" cy="380.3" r="0.70"/><circle cx="397.0" cy="380.3" r="0.70"/><circle cx="417.5" cy="380.3" r="0.70"/><circle cx="427.8" cy="380.3" r="0.70"/><circle cx="448.2" cy="380.3" r="0.70"/><circle cx="458.5" cy="380.3" r="0.70"/><circle cx="468.8" cy="380.3" r="0.70"/><circle cx="489.2" cy="380.3" r="0.70"/><circle cx="499.5" cy="380.3" r="0.70"/><circle cx="520.0" cy="380.3" r="0.70"/><circle cx="530.2" cy="380.3" r="0.70"/><circle cx="540.5" cy="380.3" r="0.70"/><circle cx="550.8" cy="380.3" r="0.70"/><circle cx="561.0" cy="380.3" r="0.70"/><circle cx="571.2" cy="380.3" r="0.70"/><circle cx="581.5" cy="380.3" r="0.70"/><circle cx="591.8" cy="380.3" r="0.70"/><circle cx="612.2" cy="380.3" r="0.70"/><circle cx="622.5" cy="380.3" r="0.70"/><circle cx="233.0" cy="391.8" r="0.70"/><circle cx="243.2" cy="391.8" r="0.70"/><circle cx="253.5" cy="391.8" r="0.70"/><circle cx="263.8" cy="391.8" r="0.70"/><circle cx="284.2" cy="391.8" r="0.70"/><circle cx="304.8" cy="391.8" r="0.70"/><circle cx="315.0" cy="391.8" r="0.70"/><circle cx="325.2" cy="391.8" r="0.70"/><circle cx="356.0" cy="391.8" r="0.70"/><circle cx="376.5" cy="391.8" r="0.70"/><circle cx="386.8" cy="391.8" r="0.70"/><circle cx="397.0" cy="391.8" r="0.70"/><circle cx="417.5" cy="391.8" r="0.70"/><circle cx="427.8" cy="391.8" r="0.70"/><circle cx="438.0" cy="391.8" r="0.70"/><circle cx="448.2" cy="391.8" r="0.70"/><circle cx="458.5" cy="391.8" r="0.70"/><circle cx="468.8" cy="391.8" r="0.70"/><circle cx="479.0" cy="391.8" r="0.70"/><circle cx="489.2" cy="391.8" r="0.70"/><circle cx="509.8" cy="391.8" r="0.70"/><circle cx="520.0" cy="391.8" r="0.70"/><circle cx="530.2" cy="391.8" r="0.70"/><circle cx="540.5" cy="391.8" r="0.70"/><circle cx="550.8" cy="391.8" r="0.70"/><circle cx="561.0" cy="391.8" r="0.70"/><circle cx="571.2" cy="391.8" r="0.70"/><circle cx="581.5" cy="391.8" r="0.70"/><circle cx="591.8" cy="391.8" r="0.70"/><circle cx="233.0" cy="403.3" r="0.70"/><circle cx="243.2" cy="403.3" r="0.70"/><circle cx="253.5" cy="403.3" r="0.70"/><circle cx="263.8" cy="403.3" r="0.70"/><circle cx="274.0" cy="403.3" r="0.70"/><circle cx="284.2" cy="403.3" r="0.70"/><circle cx="294.5" cy="403.3" r="0.70"/><circle cx="304.8" cy="403.3" r="0.70"/><circle cx="315.0" cy="403.3" r="0.70"/><circle cx="335.5" cy="403.3" r="0.70"/><circle cx="345.8" cy="403.3" r="0.70"/><circle cx="356.0" cy="403.3" r="0.70"/><circle cx="386.8" cy="403.3" r="0.70"/><circle cx="397.0" cy="403.3" r="0.70"/><circle cx="417.5" cy="403.3" r="0.70"/><circle cx="427.8" cy="403.3" r="0.70"/><circle cx="448.2" cy="403.3" r="0.70"/><circle cx="458.5" cy="403.3" r="0.70"/><circle cx="468.8" cy="403.3" r="0.70"/><circle cx="499.5" cy="403.3" r="0.70"/><circle cx="520.0" cy="403.3" r="0.70"/><circle cx="530.2" cy="403.3" r="0.70"/><circle cx="540.5" cy="403.3" r="0.70"/><circle cx="550.8" cy="403.3" r="0.70"/><circle cx="561.0" cy="403.3" r="0.70"/><circle cx="571.2" cy="403.3" r="0.70"/><circle cx="581.5" cy="403.3" r="0.70"/><circle cx="591.8" cy="403.3" r="0.70"/><circle cx="602.0" cy="403.3" r="0.70"/><circle cx="612.2" cy="403.3" r="0.70"/><circle cx="622.5" cy="403.3" r="0.70"/><circle cx="233.0" cy="414.9" r="0.70"/><circle cx="243.2" cy="414.9" r="0.70"/><circle cx="253.5" cy="414.9" r="0.70"/><circle cx="263.8" cy="414.9" r="0.70"/><circle cx="274.0" cy="414.9" r="0.70"/><circle cx="284.2" cy="414.9" r="0.70"/><circle cx="294.5" cy="414.9" r="0.70"/><circle cx="304.8" cy="414.9" r="0.70"/><circle cx="315.0" cy="414.9" r="0.70"/><circle cx="325.2" cy="414.9" r="0.70"/><circle cx="335.5" cy="414.9" r="0.70"/><circle cx="345.8" cy="414.9" r="0.70"/><circle cx="356.0" cy="414.9" r="0.70"/><circle cx="366.2" cy="414.9" r="0.70"/><circle cx="376.5" cy="414.9" r="0.70"/><circle cx="386.8" cy="414.9" r="0.70"/><circle cx="397.0" cy="414.9" r="0.70"/><circle cx="407.2" cy="414.9" r="0.70"/><circle cx="417.5" cy="414.9" r="0.70"/><circle cx="427.8" cy="414.9" r="0.70"/><circle cx="438.0" cy="414.9" r="0.70"/><circle cx="479.0" cy="414.9" r="0.70"/><circle cx="499.5" cy="414.9" r="0.70"/><circle cx="520.0" cy="414.9" r="0.70"/><circle cx="530.2" cy="414.9" r="0.70"/><circle cx="540.5" cy="414.9" r="0.70"/><circle cx="550.8" cy="414.9" r="0.70"/><circle cx="561.0" cy="414.9" r="0.70"/><circle cx="571.2" cy="414.9" r="0.70"/><circle cx="581.5" cy="414.9" r="0.70"/><circle cx="591.8" cy="414.9" r="0.70"/><circle cx="602.0" cy="414.9" r="0.70"/><circle cx="612.2" cy="414.9" r="0.70"/><circle cx="622.5" cy="414.9" r="0.70"/><circle cx="233.0" cy="426.4" r="0.70"/><circle cx="243.2" cy="426.4" r="0.70"/><circle cx="253.5" cy="426.4" r="0.70"/><circle cx="263.8" cy="426.4" r="0.70"/><circle cx="274.0" cy="426.4" r="0.70"/><circle cx="294.5" cy="426.4" r="0.70"/><circle cx="304.8" cy="426.4" r="0.70"/><circle cx="315.0" cy="426.4" r="0.70"/><circle cx="325.2" cy="426.4" r="0.70"/><circle cx="335.5" cy="426.4" r="0.70"/><circle cx="345.8" cy="426.4" r="0.70"/><circle cx="356.0" cy="426.4" r="0.70"/><circle cx="366.2" cy="426.4" r="0.70"/><circle cx="376.5" cy="426.4" r="0.70"/><circle cx="386.8" cy="426.4" r="0.70"/><circle cx="397.0" cy="426.4" r="0.70"/><circle cx="407.2" cy="426.4" r="0.70"/><circle cx="417.5" cy="426.4" r="0.70"/><circle cx="427.8" cy="426.4" r="0.70"/><circle cx="438.0" cy="426.4" r="0.70"/><circle cx="468.8" cy="426.4" r="0.70"/><circle cx="479.0" cy="426.4" r="0.70"/><circle cx="499.5" cy="426.4" r="0.70"/><circle cx="509.8" cy="426.4" r="0.70"/><circle cx="520.0" cy="426.4" r="0.70"/><circle cx="530.2" cy="426.4" r="0.70"/><circle cx="550.8" cy="426.4" r="0.70"/><circle cx="561.0" cy="426.4" r="0.70"/><circle cx="571.2" cy="426.4" r="0.70"/><circle cx="581.5" cy="426.4" r="0.70"/><circle cx="591.8" cy="426.4" r="0.70"/><circle cx="602.0" cy="426.4" r="0.70"/><circle cx="612.2" cy="426.4" r="0.70"/><circle cx="622.5" cy="426.4" r="0.70"/><circle cx="233.0" cy="438.0" r="0.70"/><circle cx="243.2" cy="438.0" r="0.70"/><circle cx="263.8" cy="438.0" r="0.70"/><circle cx="274.0" cy="438.0" r="0.70"/><circle cx="294.5" cy="438.0" r="0.70"/><circle cx="304.8" cy="438.0" r="0.70"/><circle cx="315.0" cy="438.0" r="0.70"/><circle cx="325.2" cy="438.0" r="0.70"/><circle cx="345.8" cy="438.0" r="0.70"/><circle cx="356.0" cy="438.0" r="0.70"/><circle cx="376.5" cy="438.0" r="0.70"/><circle cx="386.8" cy="438.0" r="0.70"/><circle cx="397.0" cy="438.0" r="0.70"/><circle cx="407.2" cy="438.0" r="0.70"/><circle cx="417.5" cy="438.0" r="0.70"/><circle cx="427.8" cy="438.0" r="0.70"/><circle cx="448.2" cy="438.0" r="0.70"/><circle cx="458.5" cy="438.0" r="0.70"/><circle cx="468.8" cy="438.0" r="0.70"/><circle cx="479.0" cy="438.0" r="0.70"/><circle cx="499.5" cy="438.0" r="0.70"/><circle cx="509.8" cy="438.0" r="0.70"/><circle cx="520.0" cy="438.0" r="0.70"/><circle cx="530.2" cy="438.0" r="0.70"/><circle cx="540.5" cy="438.0" r="0.70"/><circle cx="550.8" cy="438.0" r="0.70"/><circle cx="571.2" cy="438.0" r="0.70"/><circle cx="581.5" cy="438.0" r="0.70"/><circle cx="612.2" cy="438.0" r="0.70"/><circle cx="622.5" cy="438.0" r="0.70"/><circle cx="233.0" cy="449.5" r="0.70"/><circle cx="243.2" cy="449.5" r="0.70"/><circle cx="253.5" cy="449.5" r="0.70"/><circle cx="263.8" cy="449.5" r="0.70"/><circle cx="274.0" cy="449.5" r="0.70"/><circle cx="284.2" cy="449.5" r="0.70"/><circle cx="294.5" cy="449.5" r="0.70"/><circle cx="304.8" cy="449.5" r="0.70"/><circle cx="325.2" cy="449.5" r="0.70"/><circle cx="335.5" cy="449.5" r="0.70"/><circle cx="345.8" cy="449.5" r="0.70"/><circle cx="356.0" cy="449.5" r="0.70"/><circle cx="366.2" cy="449.5" r="0.70"/><circle cx="376.5" cy="449.5" r="0.70"/><circle cx="397.0" cy="449.5" r="0.70"/><circle cx="407.2" cy="449.5" r="0.70"/><circle cx="448.2" cy="449.5" r="0.70"/><circle cx="458.5" cy="449.5" r="0.70"/><circle cx="468.8" cy="449.5" r="0.70"/><circle cx="489.2" cy="449.5" r="0.70"/><circle cx="499.5" cy="449.5" r="0.70"/><circle cx="509.8" cy="449.5" r="0.70"/><circle cx="520.0" cy="449.5" r="0.70"/><circle cx="530.2" cy="449.5" r="0.70"/><circle cx="540.5" cy="449.5" r="0.70"/><circle cx="550.8" cy="449.5" r="0.70"/><circle cx="561.0" cy="449.5" r="0.70"/><circle cx="581.5" cy="449.5" r="0.70"/><circle cx="591.8" cy="449.5" r="0.70"/><circle cx="602.0" cy="449.5" r="0.70"/><circle cx="612.2" cy="449.5" r="0.70"/><circle cx="233.0" cy="461.0" r="0.70"/><circle cx="243.2" cy="461.0" r="0.70"/><circle cx="253.5" cy="461.0" r="0.70"/><circle cx="263.8" cy="461.0" r="0.70"/><circle cx="274.0" cy="461.0" r="0.70"/><circle cx="284.2" cy="461.0" r="0.70"/><circle cx="294.5" cy="461.0" r="0.70"/><circle cx="304.8" cy="461.0" r="0.70"/><circle cx="315.0" cy="461.0" r="0.70"/><circle cx="325.2" cy="461.0" r="0.70"/><circle cx="335.5" cy="461.0" r="0.70"/><circle cx="356.0" cy="461.0" r="0.70"/><circle cx="366.2" cy="461.0" r="0.70"/><circle cx="407.2" cy="461.0" r="0.70"/><circle cx="438.0" cy="461.0" r="0.70"/><circle cx="448.2" cy="461.0" r="0.70"/><circle cx="458.5" cy="461.0" r="0.70"/><circle cx="468.8" cy="461.0" r="0.70"/><circle cx="489.2" cy="461.0" r="0.70"/><circle cx="499.5" cy="461.0" r="0.70"/><circle cx="509.8" cy="461.0" r="0.70"/><circle cx="520.0" cy="461.0" r="0.70"/><circle cx="530.2" cy="461.0" r="0.70"/><circle cx="540.5" cy="461.0" r="0.70"/><circle cx="550.8" cy="461.0" r="0.70"/><circle cx="561.0" cy="461.0" r="0.70"/><circle cx="581.5" cy="461.0" r="0.70"/><circle cx="591.8" cy="461.0" r="0.70"/><circle cx="602.0" cy="461.0" r="0.70"/><circle cx="612.2" cy="461.0" r="0.70"/><circle cx="233.0" cy="472.6" r="0.70"/><circle cx="243.2" cy="472.6" r="0.70"/><circle cx="253.5" cy="472.6" r="0.70"/><circle cx="263.8" cy="472.6" r="0.70"/><circle cx="274.0" cy="472.6" r="0.70"/><circle cx="284.2" cy="472.6" r="0.70"/><circle cx="294.5" cy="472.6" r="0.70"/><circle cx="304.8" cy="472.6" r="0.70"/><circle cx="315.0" cy="472.6" r="0.70"/><circle cx="325.2" cy="472.6" r="0.70"/><circle cx="335.5" cy="472.6" r="0.70"/><circle cx="345.8" cy="472.6" r="0.70"/><circle cx="356.0" cy="472.6" r="0.70"/><circle cx="386.8" cy="472.6" r="0.70"/><circle cx="397.0" cy="472.6" r="0.70"/><circle cx="427.8" cy="472.6" r="0.70"/><circle cx="448.2" cy="472.6" r="0.70"/><circle cx="458.5" cy="472.6" r="0.70"/><circle cx="468.8" cy="472.6" r="0.70"/><circle cx="479.0" cy="472.6" r="0.70"/><circle cx="489.2" cy="472.6" r="0.70"/><circle cx="509.8" cy="472.6" r="0.70"/><circle cx="520.0" cy="472.6" r="0.70"/><circle cx="530.2" cy="472.6" r="0.70"/><circle cx="540.5" cy="472.6" r="0.70"/><circle cx="550.8" cy="472.6" r="0.70"/><circle cx="561.0" cy="472.6" r="0.70"/><circle cx="571.2" cy="472.6" r="0.70"/><circle cx="581.5" cy="472.6" r="0.70"/><circle cx="591.8" cy="472.6" r="0.70"/><circle cx="612.2" cy="472.6" r="0.70"/><circle cx="622.5" cy="472.6" r="0.70"/><circle cx="233.0" cy="484.1" r="0.70"/><circle cx="243.2" cy="484.1" r="0.70"/><circle cx="253.5" cy="484.1" r="0.70"/><circle cx="263.8" cy="484.1" r="0.70"/><circle cx="274.0" cy="484.1" r="0.70"/><circle cx="284.2" cy="484.1" r="0.70"/><circle cx="294.5" cy="484.1" r="0.70"/><circle cx="304.8" cy="484.1" r="0.70"/><circle cx="315.0" cy="484.1" r="0.70"/><circle cx="345.8" cy="484.1" r="0.70"/><circle cx="356.0" cy="484.1" r="0.70"/><circle cx="366.2" cy="484.1" r="0.70"/><circle cx="407.2" cy="484.1" r="0.70"/><circle cx="417.5" cy="484.1" r="0.70"/><circle cx="427.8" cy="484.1" r="0.70"/><circle cx="438.0" cy="484.1" r="0.70"/><circle cx="458.5" cy="484.1" r="0.70"/><circle cx="468.8" cy="484.1" r="0.70"/><circle cx="479.0" cy="484.1" r="0.70"/><circle cx="499.5" cy="484.1" r="0.70"/><circle cx="509.8" cy="484.1" r="0.70"/><circle cx="520.0" cy="484.1" r="0.70"/><circle cx="530.2" cy="484.1" r="0.70"/><circle cx="540.5" cy="484.1" r="0.70"/><circle cx="550.8" cy="484.1" r="0.70"/><circle cx="561.0" cy="484.1" r="0.70"/><circle cx="571.2" cy="484.1" r="0.70"/><circle cx="581.5" cy="484.1" r="0.70"/><circle cx="591.8" cy="484.1" r="0.70"/><circle cx="602.0" cy="484.1" r="0.70"/><circle cx="612.2" cy="484.1" r="0.70"/><circle cx="622.5" cy="484.1" r="0.70"/><circle cx="233.0" cy="495.7" r="0.70"/><circle cx="243.2" cy="495.7" r="0.70"/><circle cx="253.5" cy="495.7" r="0.70"/><circle cx="263.8" cy="495.7" r="0.70"/><circle cx="274.0" cy="495.7" r="0.70"/><circle cx="284.2" cy="495.7" r="0.70"/><circle cx="294.5" cy="495.7" r="0.70"/><circle cx="304.8" cy="495.7" r="0.70"/><circle cx="315.0" cy="495.7" r="0.70"/><circle cx="325.2" cy="495.7" r="0.70"/><circle cx="335.5" cy="495.7" r="0.70"/><circle cx="345.8" cy="495.7" r="0.70"/><circle cx="356.0" cy="495.7" r="0.70"/><circle cx="366.2" cy="495.7" r="0.70"/><circle cx="397.0" cy="495.7" r="0.70"/><circle cx="438.0" cy="495.7" r="0.70"/><circle cx="448.2" cy="495.7" r="0.70"/><circle cx="458.5" cy="495.7" r="0.70"/><circle cx="468.8" cy="495.7" r="0.70"/><circle cx="499.5" cy="495.7" r="0.70"/><circle cx="509.8" cy="495.7" r="0.70"/><circle cx="520.0" cy="495.7" r="0.70"/><circle cx="530.2" cy="495.7" r="0.70"/><circle cx="540.5" cy="495.7" r="0.70"/><circle cx="550.8" cy="495.7" r="0.70"/><circle cx="561.0" cy="495.7" r="0.70"/><circle cx="571.2" cy="495.7" r="0.70"/><circle cx="581.5" cy="495.7" r="0.70"/><circle cx="591.8" cy="495.7" r="0.70"/><circle cx="602.0" cy="495.7" r="0.70"/><circle cx="612.2" cy="495.7" r="0.70"/><circle cx="243.2" cy="507.2" r="0.70"/><circle cx="253.5" cy="507.2" r="0.70"/><circle cx="263.8" cy="507.2" r="0.70"/><circle cx="274.0" cy="507.2" r="0.70"/><circle cx="284.2" cy="507.2" r="0.70"/><circle cx="294.5" cy="507.2" r="0.70"/><circle cx="304.8" cy="507.2" r="0.70"/><circle cx="315.0" cy="507.2" r="0.70"/><circle cx="325.2" cy="507.2" r="0.70"/><circle cx="335.5" cy="507.2" r="0.70"/><circle cx="345.8" cy="507.2" r="0.70"/><circle cx="356.0" cy="507.2" r="0.70"/><circle cx="376.5" cy="507.2" r="0.70"/><circle cx="386.8" cy="507.2" r="0.70"/><circle cx="397.0" cy="507.2" r="0.70"/><circle cx="417.5" cy="507.2" r="0.70"/><circle cx="427.8" cy="507.2" r="0.70"/><circle cx="438.0" cy="507.2" r="0.70"/><circle cx="448.2" cy="507.2" r="0.70"/><circle cx="468.8" cy="507.2" r="0.70"/><circle cx="479.0" cy="507.2" r="0.70"/><circle cx="489.2" cy="507.2" r="0.70"/><circle cx="499.5" cy="507.2" r="0.70"/><circle cx="509.8" cy="507.2" r="0.70"/><circle cx="520.0" cy="507.2" r="0.70"/><circle cx="530.2" cy="507.2" r="0.70"/><circle cx="540.5" cy="507.2" r="0.70"/><circle cx="550.8" cy="507.2" r="0.70"/><circle cx="561.0" cy="507.2" r="0.70"/><circle cx="571.2" cy="507.2" r="0.70"/><circle cx="581.5" cy="507.2" r="0.70"/><circle cx="591.8" cy="507.2" r="0.70"/><circle cx="602.0" cy="507.2" r="0.70"/><circle cx="612.2" cy="507.2" r="0.70"/><circle cx="622.5" cy="507.2" r="0.70"/><circle cx="233.0" cy="518.7" r="0.70"/><circle cx="243.2" cy="518.7" r="0.70"/><circle cx="253.5" cy="518.7" r="0.70"/><circle cx="263.8" cy="518.7" r="0.70"/><circle cx="274.0" cy="518.7" r="0.70"/><circle cx="284.2" cy="518.7" r="0.70"/><circle cx="294.5" cy="518.7" r="0.70"/><circle cx="304.8" cy="518.7" r="0.70"/><circle cx="315.0" cy="518.7" r="0.70"/><circle cx="325.2" cy="518.7" r="0.70"/><circle cx="335.5" cy="518.7" r="0.70"/><circle cx="345.8" cy="518.7" r="0.70"/><circle cx="376.5" cy="518.7" r="0.70"/><circle cx="386.8" cy="518.7" r="0.70"/><circle cx="397.0" cy="518.7" r="0.70"/><circle cx="407.2" cy="518.7" r="0.70"/><circle cx="417.5" cy="518.7" r="0.70"/><circle cx="427.8" cy="518.7" r="0.70"/><circle cx="438.0" cy="518.7" r="0.70"/><circle cx="448.2" cy="518.7" r="0.70"/><circle cx="458.5" cy="518.7" r="0.70"/><circle cx="468.8" cy="518.7" r="0.70"/><circle cx="479.0" cy="518.7" r="0.70"/><circle cx="489.2" cy="518.7" r="0.70"/><circle cx="499.5" cy="518.7" r="0.70"/><circle cx="509.8" cy="518.7" r="0.70"/><circle cx="520.0" cy="518.7" r="0.70"/><circle cx="530.2" cy="518.7" r="0.70"/><circle cx="540.5" cy="518.7" r="0.70"/><circle cx="550.8" cy="518.7" r="0.70"/><circle cx="561.0" cy="518.7" r="0.70"/><circle cx="571.2" cy="518.7" r="0.70"/><circle cx="591.8" cy="518.7" r="0.70"/><circle cx="602.0" cy="518.7" r="0.70"/><circle cx="612.2" cy="518.7" r="0.70"/><circle cx="622.5" cy="518.7" r="0.70"/><circle cx="233.0" cy="530.3" r="0.70"/><circle cx="243.2" cy="530.3" r="0.70"/><circle cx="253.5" cy="530.3" r="0.70"/><circle cx="263.8" cy="530.3" r="0.70"/><circle cx="274.0" cy="530.3" r="0.70"/><circle cx="284.2" cy="530.3" r="0.70"/><circle cx="294.5" cy="530.3" r="0.70"/><circle cx="304.8" cy="530.3" r="0.70"/><circle cx="315.0" cy="530.3" r="0.70"/><circle cx="325.2" cy="530.3" r="0.70"/><circle cx="335.5" cy="530.3" r="0.70"/><circle cx="356.0" cy="530.3" r="0.70"/><circle cx="376.5" cy="530.3" r="0.70"/><circle cx="386.8" cy="530.3" r="0.70"/><circle cx="397.0" cy="530.3" r="0.70"/><circle cx="407.2" cy="530.3" r="0.70"/><circle cx="417.5" cy="530.3" r="0.70"/><circle cx="427.8" cy="530.3" r="0.70"/><circle cx="438.0" cy="530.3" r="0.70"/><circle cx="448.2" cy="530.3" r="0.70"/><circle cx="458.5" cy="530.3" r="0.70"/><circle cx="468.8" cy="530.3" r="0.70"/><circle cx="479.0" cy="530.3" r="0.70"/><circle cx="489.2" cy="530.3" r="0.70"/><circle cx="499.5" cy="530.3" r="0.70"/><circle cx="509.8" cy="530.3" r="0.70"/><circle cx="520.0" cy="530.3" r="0.70"/><circle cx="540.5" cy="530.3" r="0.70"/><circle cx="550.8" cy="530.3" r="0.70"/><circle cx="561.0" cy="530.3" r="0.70"/><circle cx="571.2" cy="530.3" r="0.70"/><circle cx="581.5" cy="530.3" r="0.70"/><circle cx="591.8" cy="530.3" r="0.70"/><circle cx="602.0" cy="530.3" r="0.70"/><circle cx="612.2" cy="530.3" r="0.70"/><circle cx="622.5" cy="530.3" r="0.70"/><circle cx="233.0" cy="541.8" r="0.70"/><circle cx="243.2" cy="541.8" r="0.70"/><circle cx="253.5" cy="541.8" r="0.70"/><circle cx="274.0" cy="541.8" r="0.70"/><circle cx="304.8" cy="541.8" r="0.70"/><circle cx="315.0" cy="541.8" r="0.70"/><circle cx="325.2" cy="541.8" r="0.70"/><circle cx="345.8" cy="541.8" r="0.70"/><circle cx="356.0" cy="541.8" r="0.70"/><circle cx="366.2" cy="541.8" r="0.70"/><circle cx="386.8" cy="541.8" r="0.70"/><circle cx="397.0" cy="541.8" r="0.70"/><circle cx="407.2" cy="541.8" r="0.70"/><circle cx="417.5" cy="541.8" r="0.70"/><circle cx="427.8" cy="541.8" r="0.70"/><circle cx="438.0" cy="541.8" r="0.70"/><circle cx="448.2" cy="541.8" r="0.70"/><circle cx="468.8" cy="541.8" r="0.70"/><circle cx="479.0" cy="541.8" r="0.70"/><circle cx="489.2" cy="541.8" r="0.70"/><circle cx="499.5" cy="541.8" r="0.70"/><circle cx="509.8" cy="541.8" r="0.70"/><circle cx="520.0" cy="541.8" r="0.70"/><circle cx="530.2" cy="541.8" r="0.70"/><circle cx="540.5" cy="541.8" r="0.70"/><circle cx="550.8" cy="541.8" r="0.70"/><circle cx="561.0" cy="541.8" r="0.70"/><circle cx="571.2" cy="541.8" r="0.70"/><circle cx="591.8" cy="541.8" r="0.70"/><circle cx="602.0" cy="541.8" r="0.70"/><circle cx="612.2" cy="541.8" r="0.70"/><circle cx="622.5" cy="541.8" r="0.70"/><circle cx="233.0" cy="553.4" r="0.70"/><circle cx="243.2" cy="553.4" r="0.70"/><circle cx="253.5" cy="553.4" r="0.70"/><circle cx="284.2" cy="553.4" r="0.70"/><circle cx="294.5" cy="553.4" r="0.70"/><circle cx="315.0" cy="553.4" r="0.70"/><circle cx="335.5" cy="553.4" r="0.70"/><circle cx="345.8" cy="553.4" r="0.70"/><circle cx="356.0" cy="553.4" r="0.70"/><circle cx="366.2" cy="553.4" r="0.70"/><circle cx="386.8" cy="553.4" r="0.70"/><circle cx="397.0" cy="553.4" r="0.70"/><circle cx="417.5" cy="553.4" r="0.70"/><circle cx="427.8" cy="553.4" r="0.70"/><circle cx="438.0" cy="553.4" r="0.70"/><circle cx="448.2" cy="553.4" r="0.70"/><circle cx="479.0" cy="553.4" r="0.70"/><circle cx="489.2" cy="553.4" r="0.70"/><circle cx="499.5" cy="553.4" r="0.70"/><circle cx="509.8" cy="553.4" r="0.70"/><circle cx="520.0" cy="553.4" r="0.70"/><circle cx="530.2" cy="553.4" r="0.70"/><circle cx="540.5" cy="553.4" r="0.70"/><circle cx="550.8" cy="553.4" r="0.70"/><circle cx="561.0" cy="553.4" r="0.70"/><circle cx="571.2" cy="553.4" r="0.70"/><circle cx="581.5" cy="553.4" r="0.70"/><circle cx="591.8" cy="553.4" r="0.70"/><circle cx="602.0" cy="553.4" r="0.70"/><circle cx="622.5" cy="553.4" r="0.70"/><circle cx="233.0" cy="564.9" r="0.70"/><circle cx="243.2" cy="564.9" r="0.70"/><circle cx="253.5" cy="564.9" r="0.70"/><circle cx="263.8" cy="564.9" r="0.70"/><circle cx="274.0" cy="564.9" r="0.70"/><circle cx="284.2" cy="564.9" r="0.70"/><circle cx="325.2" cy="564.9" r="0.70"/><circle cx="335.5" cy="564.9" r="0.70"/><circle cx="345.8" cy="564.9" r="0.70"/><circle cx="356.0" cy="564.9" r="0.70"/><circle cx="366.2" cy="564.9" r="0.70"/><circle cx="376.5" cy="564.9" r="0.70"/><circle cx="386.8" cy="564.9" r="0.70"/><circle cx="397.0" cy="564.9" r="0.70"/><circle cx="417.5" cy="564.9" r="0.70"/><circle cx="427.8" cy="564.9" r="0.70"/><circle cx="438.0" cy="564.9" r="0.70"/><circle cx="448.2" cy="564.9" r="0.70"/><circle cx="468.8" cy="564.9" r="0.70"/><circle cx="479.0" cy="564.9" r="0.70"/><circle cx="489.2" cy="564.9" r="0.70"/><circle cx="499.5" cy="564.9" r="0.70"/><circle cx="509.8" cy="564.9" r="0.70"/><circle cx="520.0" cy="564.9" r="0.70"/><circle cx="530.2" cy="564.9" r="0.70"/><circle cx="540.5" cy="564.9" r="0.70"/><circle cx="550.8" cy="564.9" r="0.70"/><circle cx="561.0" cy="564.9" r="0.70"/><circle cx="571.2" cy="564.9" r="0.70"/><circle cx="591.8" cy="564.9" r="0.70"/><circle cx="602.0" cy="564.9" r="0.70"/><circle cx="612.2" cy="564.9" r="0.70"/><circle cx="622.5" cy="564.9" r="0.70"/><circle cx="233.0" cy="576.4" r="0.70"/><circle cx="243.2" cy="576.4" r="0.70"/><circle cx="253.5" cy="576.4" r="0.70"/><circle cx="325.2" cy="576.4" r="0.70"/><circle cx="335.5" cy="576.4" r="0.70"/><circle cx="345.8" cy="576.4" r="0.70"/><circle cx="356.0" cy="576.4" r="0.70"/><circle cx="366.2" cy="576.4" r="0.70"/><circle cx="376.5" cy="576.4" r="0.70"/><circle cx="386.8" cy="576.4" r="0.70"/><circle cx="397.0" cy="576.4" r="0.70"/><circle cx="417.5" cy="576.4" r="0.70"/><circle cx="427.8" cy="576.4" r="0.70"/><circle cx="458.5" cy="576.4" r="0.70"/><circle cx="468.8" cy="576.4" r="0.70"/><circle cx="479.0" cy="576.4" r="0.70"/><circle cx="489.2" cy="576.4" r="0.70"/><circle cx="499.5" cy="576.4" r="0.70"/><circle cx="509.8" cy="576.4" r="0.70"/><circle cx="520.0" cy="576.4" r="0.70"/><circle cx="530.2" cy="576.4" r="0.70"/><circle cx="540.5" cy="576.4" r="0.70"/><circle cx="550.8" cy="576.4" r="0.70"/><circle cx="561.0" cy="576.4" r="0.70"/><circle cx="571.2" cy="576.4" r="0.70"/><circle cx="581.5" cy="576.4" r="0.70"/><circle cx="591.8" cy="576.4" r="0.70"/><circle cx="602.0" cy="576.4" r="0.70"/><circle cx="612.2" cy="576.4" r="0.70"/><circle cx="622.5" cy="576.4" r="0.70"/><circle cx="243.2" cy="588.0" r="0.70"/><circle cx="253.5" cy="588.0" r="0.70"/><circle cx="263.8" cy="588.0" r="0.70"/><circle cx="284.2" cy="588.0" r="0.70"/><circle cx="315.0" cy="588.0" r="0.70"/><circle cx="325.2" cy="588.0" r="0.70"/><circle cx="335.5" cy="588.0" r="0.70"/><circle cx="345.8" cy="588.0" r="0.70"/><circle cx="356.0" cy="588.0" r="0.70"/><circle cx="376.5" cy="588.0" r="0.70"/><circle cx="386.8" cy="588.0" r="0.70"/><circle cx="397.0" cy="588.0" r="0.70"/><circle cx="407.2" cy="588.0" r="0.70"/><circle cx="417.5" cy="588.0" r="0.70"/><circle cx="427.8" cy="588.0" r="0.70"/><circle cx="468.8" cy="588.0" r="0.70"/><circle cx="479.0" cy="588.0" r="0.70"/><circle cx="489.2" cy="588.0" r="0.70"/><circle cx="499.5" cy="588.0" r="0.70"/><circle cx="520.0" cy="588.0" r="0.70"/><circle cx="530.2" cy="588.0" r="0.70"/><circle cx="540.5" cy="588.0" r="0.70"/><circle cx="571.2" cy="588.0" r="0.70"/><circle cx="581.5" cy="588.0" r="0.70"/><circle cx="591.8" cy="588.0" r="0.70"/><circle cx="612.2" cy="588.0" r="0.70"/><circle cx="622.5" cy="588.0" r="0.70"/><circle cx="233.0" cy="599.5" r="0.70"/><circle cx="243.2" cy="599.5" r="0.70"/><circle cx="253.5" cy="599.5" r="0.70"/><circle cx="263.8" cy="599.5" r="0.70"/><circle cx="315.0" cy="599.5" r="0.70"/><circle cx="335.5" cy="599.5" r="0.70"/><circle cx="345.8" cy="599.5" r="0.70"/><circle cx="356.0" cy="599.5" r="0.70"/><circle cx="366.2" cy="599.5" r="0.70"/><circle cx="376.5" cy="599.5" r="0.70"/><circle cx="386.8" cy="599.5" r="0.70"/><circle cx="397.0" cy="599.5" r="0.70"/><circle cx="407.2" cy="599.5" r="0.70"/><circle cx="417.5" cy="599.5" r="0.70"/><circle cx="427.8" cy="599.5" r="0.70"/><circle cx="438.0" cy="599.5" r="0.70"/><circle cx="468.8" cy="599.5" r="0.70"/><circle cx="479.0" cy="599.5" r="0.70"/><circle cx="489.2" cy="599.5" r="0.70"/><circle cx="499.5" cy="599.5" r="0.70"/><circle cx="509.8" cy="599.5" r="0.70"/><circle cx="520.0" cy="599.5" r="0.70"/><circle cx="530.2" cy="599.5" r="0.70"/><circle cx="550.8" cy="599.5" r="0.70"/><circle cx="561.0" cy="599.5" r="0.70"/><circle cx="571.2" cy="599.5" r="0.70"/><circle cx="581.5" cy="599.5" r="0.70"/><circle cx="591.8" cy="599.5" r="0.70"/><circle cx="602.0" cy="599.5" r="0.70"/><circle cx="612.2" cy="599.5" r="0.70"/><circle cx="622.5" cy="599.5" r="0.70"/><circle cx="233.0" cy="611.1" r="0.70"/><circle cx="243.2" cy="611.1" r="0.70"/><circle cx="253.5" cy="611.1" r="0.70"/><circle cx="274.0" cy="611.1" r="0.70"/><circle cx="294.5" cy="611.1" r="0.70"/><circle cx="315.0" cy="611.1" r="0.70"/><circle cx="325.2" cy="611.1" r="0.70"/><circle cx="335.5" cy="611.1" r="0.70"/><circle cx="345.8" cy="611.1" r="0.70"/><circle cx="356.0" cy="611.1" r="0.70"/><circle cx="366.2" cy="611.1" r="0.70"/><circle cx="376.5" cy="611.1" r="0.70"/><circle cx="386.8" cy="611.1" r="0.70"/><circle cx="397.0" cy="611.1" r="0.70"/><circle cx="407.2" cy="611.1" r="0.70"/><circle cx="417.5" cy="611.1" r="0.70"/><circle cx="427.8" cy="611.1" r="0.70"/><circle cx="438.0" cy="611.1" r="0.70"/><circle cx="448.2" cy="611.1" r="0.70"/><circle cx="468.8" cy="611.1" r="0.70"/><circle cx="479.0" cy="611.1" r="0.70"/><circle cx="489.2" cy="611.1" r="0.70"/><circle cx="499.5" cy="611.1" r="0.70"/><circle cx="509.8" cy="611.1" r="0.70"/><circle cx="520.0" cy="611.1" r="0.70"/><circle cx="530.2" cy="611.1" r="0.70"/><circle cx="540.5" cy="611.1" r="0.70"/><circle cx="550.8" cy="611.1" r="0.70"/><circle cx="571.2" cy="611.1" r="0.70"/><circle cx="581.5" cy="611.1" r="0.70"/><circle cx="591.8" cy="611.1" r="0.70"/><circle cx="602.0" cy="611.1" r="0.70"/><circle cx="612.2" cy="611.1" r="0.70"/><circle cx="622.5" cy="611.1" r="0.70"/><circle cx="233.0" cy="622.6" r="0.70"/><circle cx="243.2" cy="622.6" r="0.70"/><circle cx="263.8" cy="622.6" r="0.70"/><circle cx="274.0" cy="622.6" r="0.70"/><circle cx="284.2" cy="622.6" r="0.70"/><circle cx="294.5" cy="622.6" r="0.70"/><circle cx="304.8" cy="622.6" r="0.70"/><circle cx="315.0" cy="622.6" r="0.70"/><circle cx="325.2" cy="622.6" r="0.70"/><circle cx="335.5" cy="622.6" r="0.70"/><circle cx="345.8" cy="622.6" r="0.70"/><circle cx="356.0" cy="622.6" r="0.70"/><circle cx="366.2" cy="622.6" r="0.70"/><circle cx="376.5" cy="622.6" r="0.70"/><circle cx="386.8" cy="622.6" r="0.70"/><circle cx="397.0" cy="622.6" r="0.70"/><circle cx="407.2" cy="622.6" r="0.70"/><circle cx="417.5" cy="622.6" r="0.70"/><circle cx="438.0" cy="622.6" r="0.70"/><circle cx="448.2" cy="622.6" r="0.70"/><circle cx="458.5" cy="622.6" r="0.70"/><circle cx="468.8" cy="622.6" r="0.70"/><circle cx="479.0" cy="622.6" r="0.70"/><circle cx="499.5" cy="622.6" r="0.70"/><circle cx="509.8" cy="622.6" r="0.70"/><circle cx="520.0" cy="622.6" r="0.70"/><circle cx="530.2" cy="622.6" r="0.70"/><circle cx="540.5" cy="622.6" r="0.70"/><circle cx="550.8" cy="622.6" r="0.70"/><circle cx="561.0" cy="622.6" r="0.70"/><circle cx="571.2" cy="622.6" r="0.70"/><circle cx="581.5" cy="622.6" r="0.70"/><circle cx="602.0" cy="622.6" r="0.70"/><circle cx="612.2" cy="622.6" r="0.70"/><circle cx="622.5" cy="622.6" r="0.70"/><circle cx="233.0" cy="634.1" r="0.70"/><circle cx="253.5" cy="634.1" r="0.70"/><circle cx="263.8" cy="634.1" r="0.70"/><circle cx="274.0" cy="634.1" r="0.70"/><circle cx="284.2" cy="634.1" r="0.70"/><circle cx="294.5" cy="634.1" r="0.70"/><circle cx="304.8" cy="634.1" r="0.70"/><circle cx="315.0" cy="634.1" r="0.70"/><circle cx="325.2" cy="634.1" r="0.70"/><circle cx="335.5" cy="634.1" r="0.70"/><circle cx="345.8" cy="634.1" r="0.70"/><circle cx="356.0" cy="634.1" r="0.70"/><circle cx="366.2" cy="634.1" r="0.70"/><circle cx="376.5" cy="634.1" r="0.70"/><circle cx="386.8" cy="634.1" r="0.70"/><circle cx="397.0" cy="634.1" r="0.70"/><circle cx="407.2" cy="634.1" r="0.70"/><circle cx="417.5" cy="634.1" r="0.70"/><circle cx="427.8" cy="634.1" r="0.70"/><circle cx="438.0" cy="634.1" r="0.70"/><circle cx="458.5" cy="634.1" r="0.70"/><circle cx="468.8" cy="634.1" r="0.70"/><circle cx="479.0" cy="634.1" r="0.70"/><circle cx="489.2" cy="634.1" r="0.70"/><circle cx="499.5" cy="634.1" r="0.70"/><circle cx="509.8" cy="634.1" r="0.70"/><circle cx="520.0" cy="634.1" r="0.70"/><circle cx="530.2" cy="634.1" r="0.70"/><circle cx="540.5" cy="634.1" r="0.70"/><circle cx="550.8" cy="634.1" r="0.70"/><circle cx="561.0" cy="634.1" r="0.70"/><circle cx="571.2" cy="634.1" r="0.70"/><circle cx="591.8" cy="634.1" r="0.70"/><circle cx="602.0" cy="634.1" r="0.70"/><circle cx="612.2" cy="634.1" r="0.70"/><circle cx="622.5" cy="634.1" r="0.70"/><circle cx="243.2" cy="645.7" r="0.70"/><circle cx="253.5" cy="645.7" r="0.70"/><circle cx="263.8" cy="645.7" r="0.70"/><circle cx="274.0" cy="645.7" r="0.70"/><circle cx="284.2" cy="645.7" r="0.70"/><circle cx="315.0" cy="645.7" r="0.70"/><circle cx="325.2" cy="645.7" r="0.70"/><circle cx="335.5" cy="645.7" r="0.70"/><circle cx="345.8" cy="645.7" r="0.70"/><circle cx="356.0" cy="645.7" r="0.70"/><circle cx="366.2" cy="645.7" r="0.70"/><circle cx="376.5" cy="645.7" r="0.70"/><circle cx="386.8" cy="645.7" r="0.70"/><circle cx="417.5" cy="645.7" r="0.70"/><circle cx="427.8" cy="645.7" r="0.70"/><circle cx="438.0" cy="645.7" r="0.70"/><circle cx="458.5" cy="645.7" r="0.70"/><circle cx="468.8" cy="645.7" r="0.70"/><circle cx="479.0" cy="645.7" r="0.70"/><circle cx="489.2" cy="645.7" r="0.70"/><circle cx="499.5" cy="645.7" r="0.70"/><circle cx="520.0" cy="645.7" r="0.70"/><circle cx="530.2" cy="645.7" r="0.70"/><circle cx="550.8" cy="645.7" r="0.70"/><circle cx="561.0" cy="645.7" r="0.70"/><circle cx="581.5" cy="645.7" r="0.70"/><circle cx="591.8" cy="645.7" r="0.70"/><circle cx="602.0" cy="645.7" r="0.70"/><circle cx="612.2" cy="645.7" r="0.70"/><circle cx="622.5" cy="645.7" r="0.70"/></g><g fill="#6a6a6a"><circle cx="253.5" cy="276.4" r="1.10"/><circle cx="345.8" cy="276.4" r="1.10"/><circle cx="427.8" cy="276.4" r="1.10"/><circle cx="427.8" cy="287.9" r="1.10"/><circle cx="550.8" cy="287.9" r="1.10"/><circle cx="243.2" cy="299.5" r="1.10"/><circle cx="397.0" cy="322.6" r="1.40"/><circle cx="438.0" cy="322.6" r="1.10"/><circle cx="335.5" cy="334.1" r="1.10"/><circle cx="591.8" cy="345.6" r="1.10"/><circle cx="479.0" cy="357.2" r="1.10"/><circle cx="335.5" cy="368.7" r="1.10"/><circle cx="438.0" cy="380.3" r="1.10"/><circle cx="335.5" cy="391.8" r="1.10"/><circle cx="345.8" cy="391.8" r="1.10"/><circle cx="509.8" cy="403.3" r="1.10"/><circle cx="591.8" cy="438.0" r="1.10"/><circle cx="345.8" cy="461.0" r="1.10"/><circle cx="571.2" cy="461.0" r="1.10"/><circle cx="489.2" cy="484.1" r="1.10"/><circle cx="284.2" cy="541.8" r="1.10"/><circle cx="581.5" cy="541.8" r="1.10"/><circle cx="581.5" cy="564.9" r="1.10"/><circle cx="263.8" cy="576.4" r="1.10"/><circle cx="284.2" cy="576.4" r="1.10"/><circle cx="509.8" cy="588.0" r="1.10"/><circle cx="550.8" cy="588.0" r="1.10"/><circle cx="304.8" cy="599.5" r="1.10"/><circle cx="591.8" cy="622.6" r="1.10"/><circle cx="397.0" cy="645.7" r="1.10"/></g><g fill="#888"><circle cx="294.5" cy="276.4" r="2.20"/><circle cx="366.2" cy="276.4" r="1.80"/><circle cx="602.0" cy="311.0" r="2.30"/><circle cx="294.5" cy="541.8" r="1.80"/><circle cx="274.0" cy="576.4" r="1.40"/><circle cx="294.5" cy="576.4" r="2.00"/></g><g fill="#a0a0a0"><circle cx="407.2" cy="276.4" r="1.60"/></g><g fill="#666"><circle cx="602.0" cy="276.4" r="2.50"/><circle cx="468.8" cy="334.1" r="1.30"/><circle cx="479.0" cy="449.5" r="1.70"/><circle cx="294.5" cy="564.9" r="2.80"/><circle cx="602.0" cy="588.0" r="1.80"/></g><g fill="#a6a6a6"><circle cx="612.2" cy="276.4" r="1.00"/><circle cx="253.5" cy="287.9" r="1.00"/><circle cx="407.2" cy="287.9" r="1.00"/><circle cx="438.0" cy="287.9" r="1.00"/><circle cx="489.2" cy="287.9" r="1.00"/><circle cx="622.5" cy="287.9" r="1.00"/><circle cx="417.5" cy="299.5" r="1.00"/><circle cx="233.0" cy="311.0" r="1.00"/><circle cx="243.2" cy="311.0" r="1.00"/><circle cx="345.8" cy="311.0" r="1.00"/><circle cx="417.5" cy="311.0" r="1.00"/><circle cx="325.2" cy="322.6" r="1.00"/><circle cx="335.5" cy="322.6" r="1.00"/><circle cx="315.0" cy="334.1" r="1.00"/><circle cx="356.0" cy="334.1" r="1.00"/><circle cx="489.2" cy="345.6" r="1.00"/><circle cx="622.5" cy="345.6" r="1.00"/><circle cx="325.2" cy="357.2" r="1.00"/><circle cx="438.0" cy="357.2" r="1.00"/><circle cx="622.5" cy="357.2" r="1.00"/><circle cx="233.0" cy="368.7" r="1.00"/><circle cx="284.2" cy="368.7" r="1.00"/><circle cx="294.5" cy="368.7" r="1.00"/><circle cx="622.5" cy="368.7" r="1.00"/><circle cx="233.0" cy="380.3" r="1.00"/><circle cx="366.2" cy="380.3" r="1.00"/><circle cx="376.5" cy="380.3" r="1.00"/><circle cx="479.0" cy="380.3" r="1.00"/><circle cx="274.0" cy="391.8" r="1.00"/><circle cx="612.2" cy="391.8" r="1.00"/><circle cx="622.5" cy="391.8" r="1.00"/><circle cx="325.2" cy="403.3" r="1.00"/><circle cx="366.2" cy="403.3" r="1.00"/><circle cx="376.5" cy="403.3" r="1.00"/><circle cx="407.2" cy="403.3" r="1.00"/><circle cx="438.0" cy="403.3" r="1.00"/><circle cx="458.5" cy="414.9" r="1.00"/><circle cx="489.2" cy="414.9" r="1.00"/><circle cx="509.8" cy="414.9" r="1.00"/><circle cx="284.2" cy="426.4" r="1.00"/><circle cx="489.2" cy="426.4" r="1.00"/><circle cx="540.5" cy="426.4" r="1.00"/><circle cx="315.0" cy="449.5" r="1.00"/><circle cx="386.8" cy="449.5" r="1.00"/><circle cx="438.0" cy="449.5" r="1.00"/><circle cx="571.2" cy="449.5" r="1.00"/><circle cx="376.5" cy="461.0" r="1.00"/><circle cx="386.8" cy="461.0" r="1.00"/><circle cx="397.0" cy="461.0" r="1.00"/><circle cx="427.8" cy="461.0" r="1.00"/><circle cx="366.2" cy="472.6" r="1.00"/><circle cx="376.5" cy="472.6" r="1.00"/><circle cx="417.5" cy="472.6" r="1.00"/><circle cx="438.0" cy="472.6" r="1.00"/><circle cx="499.5" cy="472.6" r="1.00"/><circle cx="325.2" cy="484.1" r="1.00"/><circle cx="335.5" cy="484.1" r="1.00"/><circle cx="386.8" cy="484.1" r="1.00"/><circle cx="407.2" cy="495.7" r="1.00"/><circle cx="417.5" cy="495.7" r="1.00"/><circle cx="427.8" cy="495.7" r="1.00"/><circle cx="479.0" cy="495.7" r="1.00"/><circle cx="489.2" cy="495.7" r="1.00"/><circle cx="622.5" cy="495.7" r="1.00"/><circle cx="233.0" cy="507.2" r="1.00"/><circle cx="407.2" cy="507.2" r="1.00"/><circle cx="458.5" cy="507.2" r="1.00"/><circle cx="366.2" cy="518.7" r="1.00"/><circle cx="530.2" cy="530.3" r="1.00"/><circle cx="376.5" cy="541.8" r="1.00"/><circle cx="458.5" cy="541.8" r="1.00"/><circle cx="263.8" cy="553.4" r="1.00"/><circle cx="304.8" cy="553.4" r="1.00"/><circle cx="376.5" cy="553.4" r="1.00"/><circle cx="304.8" cy="564.9" r="1.00"/><circle cx="458.5" cy="564.9" r="1.00"/><circle cx="315.0" cy="576.4" r="1.00"/><circle cx="438.0" cy="576.4" r="1.00"/><circle cx="304.8" cy="588.0" r="1.00"/><circle cx="458.5" cy="588.0" r="1.00"/><circle cx="561.0" cy="588.0" r="1.00"/><circle cx="325.2" cy="599.5" r="1.00"/><circle cx="458.5" cy="599.5" r="1.00"/><circle cx="540.5" cy="599.5" r="1.00"/><circle cx="284.2" cy="611.1" r="1.00"/><circle cx="304.8" cy="611.1" r="1.00"/><circle cx="458.5" cy="611.1" r="1.00"/><circle cx="581.5" cy="634.1" r="1.00"/><circle cx="509.8" cy="645.7" r="1.00"/><circle cx="540.5" cy="645.7" r="1.00"/></g><g fill="#111"><circle cx="622.5" cy="276.4" r="2.50"/><circle cx="602.0" cy="287.9" r="5.20"/><circle cx="612.2" cy="287.9" r="2.50"/><circle cx="591.8" cy="299.5" r="1.50"/><circle cx="581.5" cy="311.0" r="1.40"/><circle cx="561.0" cy="322.6" r="1.80"/><circle cx="571.2" cy="322.6" r="1.60"/><circle cx="386.8" cy="334.1" r="1.70"/><circle cx="397.0" cy="334.1" r="1.90"/><circle cx="550.8" cy="334.1" r="1.80"/><circle cx="520.0" cy="345.6" r="1.30"/><circle cx="540.5" cy="345.6" r="1.70"/><circle cx="530.2" cy="357.2" r="1.30"/><circle cx="540.5" cy="357.2" r="2.00"/><circle cx="499.5" cy="368.7" r="2.80"/><circle cx="520.0" cy="368.7" r="1.30"/><circle cx="509.8" cy="380.3" r="1.30"/><circle cx="479.0" cy="403.3" r="1.80"/><circle cx="448.2" cy="414.9" r="3.60"/><circle cx="468.8" cy="414.9" r="2.20"/><circle cx="458.5" cy="426.4" r="1.50"/><circle cx="284.2" cy="438.0" r="1.50"/><circle cx="335.5" cy="438.0" r="1.50"/><circle cx="438.0" cy="438.0" r="1.40"/><circle cx="489.2" cy="438.0" r="1.80"/><circle cx="561.0" cy="438.0" r="1.50"/><circle cx="417.5" cy="449.5" r="3.20"/><circle cx="427.8" cy="449.5" r="2.00"/><circle cx="407.2" cy="472.6" r="2.80"/><circle cx="376.5" cy="484.1" r="1.30"/><circle cx="397.0" cy="484.1" r="1.70"/><circle cx="376.5" cy="495.7" r="1.50"/><circle cx="386.8" cy="495.7" r="1.90"/><circle cx="366.2" cy="507.2" r="5.00"/><circle cx="356.0" cy="518.7" r="2.00"/><circle cx="581.5" cy="518.7" r="1.20"/><circle cx="345.8" cy="530.3" r="1.90"/><circle cx="335.5" cy="541.8" r="1.20"/><circle cx="325.2" cy="553.4" r="3.80"/><circle cx="458.5" cy="553.4" r="1.80"/><circle cx="315.0" cy="564.9" r="1.70"/><circle cx="304.8" cy="576.4" r="1.30"/><circle cx="274.0" cy="588.0" r="2.40"/><circle cx="294.5" cy="588.0" r="4.60"/><circle cx="274.0" cy="599.5" r="2.50"/><circle cx="284.2" cy="599.5" r="1.50"/><circle cx="263.8" cy="611.1" r="2.30"/><circle cx="561.0" cy="611.1" r="1.30"/><circle cx="253.5" cy="622.6" r="2.40"/><circle cx="427.8" cy="622.6" r="1.30"/><circle cx="243.2" cy="634.1" r="1.90"/><circle cx="233.0" cy="645.7" r="2.20"/><circle cx="304.8" cy="645.7" r="1.60"/><circle cx="571.2" cy="645.7" r="1.30"/></g><g fill="#808080"><circle cx="294.5" cy="287.9" r="2.20"/><circle cx="366.2" cy="311.0" r="2.00"/></g><g fill="#707070"><circle cx="366.2" cy="299.5" r="2.20"/></g><g fill="#777"><circle cx="407.2" cy="299.5" r="2.00"/><circle cx="479.0" cy="461.0" r="1.60"/><circle cx="448.2" cy="599.5" r="1.80"/></g><g fill="#b0b0b0"><circle cx="602.0" cy="299.5" r="2.00"/></g><g fill="#999"><circle cx="407.2" cy="311.0" r="1.50"/><circle cx="622.5" cy="322.6" r="1.30"/><circle cx="294.5" cy="391.8" r="2.00"/><circle cx="602.0" cy="472.6" r="1.80"/><circle cx="612.2" cy="553.4" r="1.20"/><circle cx="448.2" cy="576.4" r="1.80"/></g><g fill="#555"><circle cx="479.0" cy="322.6" r="1.40"/><circle cx="499.5" cy="391.8" r="1.70"/><circle cx="253.5" cy="438.0" r="1.50"/><circle cx="489.2" cy="622.6" r="1.50"/><circle cx="294.5" cy="645.7" r="3.70"/></g><g fill="#b4b4b4"><circle cx="407.2" cy="334.1" r="1.50"/><circle cx="602.0" cy="334.1" r="1.50"/><circle cx="407.2" cy="368.7" r="1.50"/><circle cx="448.2" cy="368.7" r="1.50"/><circle cx="407.2" cy="380.3" r="1.50"/><circle cx="602.0" cy="380.3" r="1.50"/><circle cx="366.2" cy="391.8" r="1.50"/><circle cx="407.2" cy="391.8" r="1.50"/><circle cx="366.2" cy="438.0" r="1.50"/><circle cx="602.0" cy="438.0" r="1.50"/><circle cx="622.5" cy="449.5" r="1.50"/><circle cx="622.5" cy="461.0" r="1.50"/><circle cx="407.2" cy="553.4" r="1.50"/><circle cx="448.2" cy="588.0" r="1.50"/><circle cx="294.5" cy="599.5" r="1.50"/><circle cx="407.2" cy="645.7" r="1.50"/><circle cx="448.2" cy="645.7" r="1.50"/></g><g fill="#aaa"><circle cx="622.5" cy="334.1" r="1.30"/><circle cx="448.2" cy="484.1" r="1.80"/><circle cx="366.2" cy="530.3" r="1.70"/><circle cx="407.2" cy="564.9" r="1.50"/><circle cx="407.2" cy="576.4" r="1.60"/><circle cx="366.2" cy="588.0" r="1.60"/></g><g fill="#444"><circle cx="602.0" cy="391.8" r="2.60"/><circle cx="274.0" cy="553.4" r="2.00"/></g><g fill="#222"><circle cx="489.2" cy="403.3" r="1.80"/><circle cx="417.5" cy="461.0" r="2.50"/><circle cx="263.8" cy="541.8" r="1.60"/><circle cx="468.8" cy="553.4" r="1.10"/><circle cx="233.0" cy="588.0" r="1.20"/><circle cx="438.0" cy="588.0" r="1.10"/></g><g fill="#1a1a1a"><circle cx="448.2" cy="426.4" r="3.20"/></g><g fill="#333"><circle cx="448.2" cy="634.1" r="2.80"/></g><path d="M227 269.3V652.6H629" fill="none" stroke="#555" stroke-width="1.1"/><path d="M224.6 276.4H227M224.6 287.9H227M224.6 299.5H227M224.6 311.0H227M224.6 322.6H227M224.6 334.1H227M224.6 345.6H227M224.6 357.2H227M224.6 368.7H227M224.6 380.3H227M224.6 391.8H227M224.6 403.3H227M224.6 414.9H227M224.6 426.4H227M224.6 438.0H227M224.6 449.5H227M224.6 461.0H227M224.6 472.6H227M224.6 484.1H227M224.6 495.7H227M224.6 507.2H227M224.6 518.7H227M224.6 530.3H227M224.6 541.8H227M224.6 553.4H227M224.6 564.9H227M224.6 576.4H227M224.6 588.0H227M224.6 599.5H227M224.6 611.1H227M224.6 622.6H227M224.6 634.1H227M224.6 645.7H227M233.0 652.6v2.2M243.2 652.6v2.2M253.5 652.6v2.2M263.8 652.6v2.2M274.0 652.6v2.2M284.2 652.6v2.2M294.5 652.6v2.2M304.8 652.6v2.2M315.0 652.6v2.2M325.2 652.6v2.2M335.5 652.6v2.2M345.8 652.6v2.2M356.0 652.6v2.2M366.2 652.6v2.2M376.5 652.6v2.2M386.8 652.6v2.2M397.0 652.6v2.2M407.2 652.6v2.2M417.5 652.6v2.2M427.8 652.6v2.2M438.0 652.6v2.2M448.2 652.6v2.2M458.5 652.6v2.2M468.8 652.6v2.2M479.0 652.6v2.2M489.2 652.6v2.2M499.5 652.6v2.2M509.8 652.6v2.2M520.0 652.6v2.2M530.2 652.6v2.2M540.5 652.6v2.2M550.8 652.6v2.2M561.0 652.6v2.2M571.2 652.6v2.2M581.5 652.6v2.2M591.8 652.6v2.2M602.0 652.6v2.2M612.2 652.6v2.2M622.5 652.6v2.2" stroke="#333" stroke-width="0.7"/><g font-size="7.2" font-style="italic" fill="#1e1e1e" text-anchor="end" font-family="Liberation Sans, Arial, sans-serif"><text transform="translate(235.4 657) rotate(-90)">Cbln2</text><text transform="translate(245.7 657) rotate(-90)">Rxfp1</text><text transform="translate(255.9 657) rotate(-90)">Postn</text><text transform="translate(266.1 657) rotate(-90)">Cartpt</text><text transform="translate(276.4 657) rotate(-90)">Tfap2d</text><text transform="translate(286.6 657) rotate(-90)">Plce1</text><text transform="translate(296.9 657) rotate(-90)">Tcf7l2</text><text transform="translate(307.1 657) rotate(-90)">Pou4f1</text><text transform="translate(317.4 657) rotate(-90)">Npffr2</text><text transform="translate(327.6 657) rotate(-90)">Etv1</text><text transform="translate(337.9 657) rotate(-90)">Npy</text><text transform="translate(348.1 657) rotate(-90)">Bmp6</text><text transform="translate(358.4 657) rotate(-90)">Acvr1c</text><text transform="translate(368.6 657) rotate(-90)">Sntb1</text><text transform="translate(378.9 657) rotate(-90)">Cbln4</text><text transform="translate(389.1 657) rotate(-90)">Cdh19</text><text transform="translate(399.4 657) rotate(-90)">Moxd1</text><text transform="translate(409.6 657) rotate(-90)">Ccdc88c</text><text transform="translate(419.9 657) rotate(-90)">Gabrr2</text><text transform="translate(430.1 657) rotate(-90)">Unc5b</text><text transform="translate(440.4 657) rotate(-90)">Calb2</text><text transform="translate(450.6 657) rotate(-90)">Gli3</text><text transform="translate(460.9 657) rotate(-90)">Nppc</text><text transform="translate(471.1 657) rotate(-90)">Penk</text><text transform="translate(481.4 657) rotate(-90)">Nox4</text><text transform="translate(491.6 657) rotate(-90)">Emx2</text><text transform="translate(501.9 657) rotate(-90)">Cdh23</text><text transform="translate(512.1 657) rotate(-90)">Rxfp2</text><text transform="translate(522.4 657) rotate(-90)">Glp1r</text><text transform="translate(532.6 657) rotate(-90)">Il1rl2</text><text transform="translate(542.9 657) rotate(-90)">Calcrl</text><text transform="translate(553.1 657) rotate(-90)">Prox1</text><text transform="translate(563.4 657) rotate(-90)">Stk32a</text><text transform="translate(573.6 657) rotate(-90)">Mybpc1</text><text transform="translate(583.9 657) rotate(-90)">Rspo3</text><text transform="translate(594.1 657) rotate(-90)">Igfn1</text><text transform="translate(604.4 657) rotate(-90)">Sst</text><text transform="translate(614.6 657) rotate(-90)">Dcn</text><text transform="translate(624.9 657) rotate(-90)">Stk33</text></g><defs><linearGradient id="ag" x1="0" x2="1"><stop offset="0" stop-color="#e2e2e2"/><stop offset="1" stop-color="#000"/></linearGradient></defs><rect x="501.5" y="255.2" width="42" height="6" fill="url(#ag)"/><path d="M515.4 255.2v6M529.4 255.2v6" stroke="#fff" stroke-width="0.4" opacity="0.6"/><g font-size="7.3" fill="#333" font-family="Liberation Sans, Arial, sans-serif"><text x="491.1" y="251.7">Average Expression</text><text x="564.3" y="251.7">Percent Expressed</text></g><g font-size="7" fill="#333" text-anchor="middle" font-family="Liberation Sans, Arial, sans-serif"><text x="503.3" y="268.8">0</text><text x="515.4" y="268.8">1</text><text x="529.3" y="268.8">2</text><text x="542.4" y="268.8">3</text><text x="576.2" y="268.8">0</text><text x="586.6" y="268.8">20</text><text x="598.7" y="268.8">40</text><text x="611.1" y="268.8">60</text></g><g fill="#111"><circle cx="576.2" cy="258.6" r="0.6"/><circle cx="586.6" cy="258.6" r="1.6"/><circle cx="598.7" cy="258.6" r="2.7"/><circle cx="611.1" cy="258.6" r="3.8"/></g></svg></body></html>
